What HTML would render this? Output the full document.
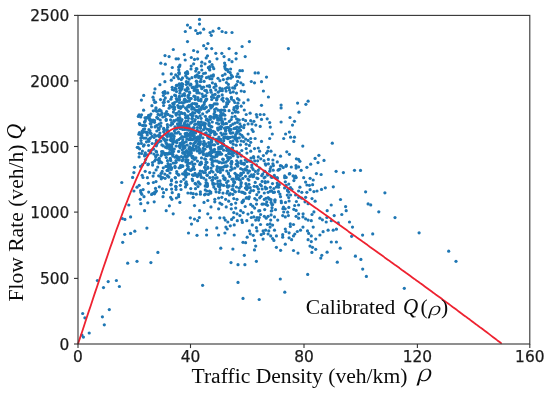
<!DOCTYPE html>
<html><head><meta charset="utf-8"><title>Calibrated fundamental diagram</title><style>
html,body{margin:0;padding:0;background:#fff;}
svg{display:block;}
.tk text{font-family:"DejaVu Sans",sans-serif;font-size:15.4px;fill:#1a1a1a;stroke:#1a1a1a;stroke-width:0.25px;}
.lab{font-family:"Liberation Serif",serif;font-size:21.6px;fill:#0a0a0a;}
.rho{font-family:"Noto Serif CJK SC","Liberation Serif",serif;font-size:21.7px;font-style:italic;fill:#0a0a0a;}
.it{font-family:"Liberation Serif",serif;font-size:21.7px;font-style:italic;fill:#0a0a0a;}
</style></head><body>
<svg width="550" height="394" viewBox="0 0 550 394">
<rect width="550" height="394" fill="#fff"/>
<g fill="#1f77b4"><circle cx="187.5" cy="25.1" r="1.6"/><circle cx="190.3" cy="27.7" r="1.6"/><circle cx="195.7" cy="30.5" r="1.6"/><circle cx="197.6" cy="33.4" r="1.6"/><circle cx="185.3" cy="31.5" r="1.6"/><circle cx="187.5" cy="41.6" r="1.6"/><circle cx="173.3" cy="49.5" r="1.6"/><circle cx="193.6" cy="50.5" r="1.6"/><circle cx="197.6" cy="51.8" r="1.6"/><circle cx="184.3" cy="54.6" r="1.6"/><circle cx="165.0" cy="55.6" r="1.6"/><circle cx="169.1" cy="56.6" r="1.6"/><circle cx="176.1" cy="58.8" r="1.6"/><circle cx="178.3" cy="58.8" r="1.6"/><circle cx="191.3" cy="57.5" r="1.6"/><circle cx="194.5" cy="59.4" r="1.6"/><circle cx="197.6" cy="58.8" r="1.6"/><circle cx="185.2" cy="60.0" r="1.6"/><circle cx="160.8" cy="63.2" r="1.6"/><circle cx="165.3" cy="64.2" r="1.6"/><circle cx="193.6" cy="63.8" r="1.6"/><circle cx="199.5" cy="19.4" r="1.6"/><circle cx="199.5" cy="24.1" r="1.6"/><circle cx="203.7" cy="29.2" r="1.6"/><circle cx="200.3" cy="32.8" r="1.6"/><circle cx="210.1" cy="32.5" r="1.6"/><circle cx="213.0" cy="31.2" r="1.6"/><circle cx="211.3" cy="35.3" r="1.6"/><circle cx="218.9" cy="28.3" r="1.6"/><circle cx="222.1" cy="31.5" r="1.6"/><circle cx="225.9" cy="32.5" r="1.6"/><circle cx="232.0" cy="32.5" r="1.6"/><circle cx="249.4" cy="41.6" r="1.6"/><circle cx="207.9" cy="43.5" r="1.6"/><circle cx="203.7" cy="45.7" r="1.6"/><circle cx="206.2" cy="48.6" r="1.6"/><circle cx="211.7" cy="48.6" r="1.6"/><circle cx="229.1" cy="48.6" r="1.6"/><circle cx="242.1" cy="46.5" r="1.6"/><circle cx="215.8" cy="53.3" r="1.6"/><circle cx="221.8" cy="53.3" r="1.6"/><circle cx="236.1" cy="53.3" r="1.6"/><circle cx="224.0" cy="56.6" r="1.6"/><circle cx="245.2" cy="56.6" r="1.6"/><circle cx="207.5" cy="55.8" r="1.6"/><circle cx="206.2" cy="57.9" r="1.6"/><circle cx="217.0" cy="58.8" r="1.6"/><circle cx="236.1" cy="58.8" r="1.6"/><circle cx="229.1" cy="59.7" r="1.6"/><circle cx="232.0" cy="61.7" r="1.6"/><circle cx="209.7" cy="61.7" r="1.6"/><circle cx="224.6" cy="63.0" r="1.6"/><circle cx="201.8" cy="62.2" r="1.6"/><circle cx="205.0" cy="63.8" r="1.6"/><circle cx="212.0" cy="64.5" r="1.6"/><circle cx="288.4" cy="48.6" r="1.6"/><circle cx="172.3" cy="67.5" r="1.6"/><circle cx="163.0" cy="73.9" r="1.6"/><circle cx="171.3" cy="73.9" r="1.6"/><circle cx="175.7" cy="74.9" r="1.6"/><circle cx="177.6" cy="76.4" r="1.6"/><circle cx="173.8" cy="77.7" r="1.6"/><circle cx="164.9" cy="81.7" r="1.6"/><circle cx="171.3" cy="80.2" r="1.6"/><circle cx="159.9" cy="84.7" r="1.6"/><circle cx="239.9" cy="70.7" r="1.6"/><circle cx="242.4" cy="70.7" r="1.6"/><circle cx="255.1" cy="72.9" r="1.6"/><circle cx="258.3" cy="72.9" r="1.6"/><circle cx="239.3" cy="77.1" r="1.6"/><circle cx="266.5" cy="77.1" r="1.6"/><circle cx="240.8" cy="82.8" r="1.6"/><circle cx="243.1" cy="84.7" r="1.6"/><circle cx="251.3" cy="81.5" r="1.6"/><circle cx="254.5" cy="82.8" r="1.6"/><circle cx="261.5" cy="81.7" r="1.6"/><circle cx="241.2" cy="91.0" r="1.6"/><circle cx="244.3" cy="91.6" r="1.6"/><circle cx="263.4" cy="91.0" r="1.6"/><circle cx="268.4" cy="97.0" r="1.6"/><circle cx="239.0" cy="99.9" r="1.6"/><circle cx="243.7" cy="102.8" r="1.6"/><circle cx="248.1" cy="99.9" r="1.6"/><circle cx="241.2" cy="106.2" r="1.6"/><circle cx="261.5" cy="105.3" r="1.6"/><circle cx="281.1" cy="105.0" r="1.6"/><circle cx="281.1" cy="107.9" r="1.6"/><circle cx="297.6" cy="103.1" r="1.6"/><circle cx="244.3" cy="110.0" r="1.6"/><circle cx="250.1" cy="113.2" r="1.6"/><circle cx="246.2" cy="114.5" r="1.6"/><circle cx="256.4" cy="114.5" r="1.6"/><circle cx="260.2" cy="114.5" r="1.6"/><circle cx="264.0" cy="114.5" r="1.6"/><circle cx="308.1" cy="101.2" r="1.6"/><circle cx="305.9" cy="104.3" r="1.6"/><circle cx="299.0" cy="112.2" r="1.6"/><circle cx="137.3" cy="147.3" r="1.6"/><circle cx="239.3" cy="120.1" r="1.6"/><circle cx="243.1" cy="119.4" r="1.6"/><circle cx="245.6" cy="120.7" r="1.6"/><circle cx="250.7" cy="120.7" r="1.6"/><circle cx="253.9" cy="121.3" r="1.6"/><circle cx="257.0" cy="116.9" r="1.6"/><circle cx="261.5" cy="119.4" r="1.6"/><circle cx="267.2" cy="118.8" r="1.6"/><circle cx="269.7" cy="122.6" r="1.6"/><circle cx="281.1" cy="122.0" r="1.6"/><circle cx="290.0" cy="117.5" r="1.6"/><circle cx="294.5" cy="121.3" r="1.6"/><circle cx="292.5" cy="125.1" r="1.6"/><circle cx="239.9" cy="123.9" r="1.6"/><circle cx="244.3" cy="125.1" r="1.6"/><circle cx="248.1" cy="123.9" r="1.6"/><circle cx="252.0" cy="123.9" r="1.6"/><circle cx="255.8" cy="125.1" r="1.6"/><circle cx="260.2" cy="126.4" r="1.6"/><circle cx="270.3" cy="127.1" r="1.6"/><circle cx="239.3" cy="127.7" r="1.6"/><circle cx="240.5" cy="130.2" r="1.6"/><circle cx="243.7" cy="127.7" r="1.6"/><circle cx="252.0" cy="129.6" r="1.6"/><circle cx="253.2" cy="131.5" r="1.6"/><circle cx="239.9" cy="134.0" r="1.6"/><circle cx="248.1" cy="134.0" r="1.6"/><circle cx="272.3" cy="134.0" r="1.6"/><circle cx="269.7" cy="138.5" r="1.6"/><circle cx="285.6" cy="134.0" r="1.6"/><circle cx="289.4" cy="132.1" r="1.6"/><circle cx="290.6" cy="137.2" r="1.6"/><circle cx="294.5" cy="137.2" r="1.6"/><circle cx="283.7" cy="138.5" r="1.6"/><circle cx="293.8" cy="141.4" r="1.6"/><circle cx="239.3" cy="137.8" r="1.6"/><circle cx="243.1" cy="137.2" r="1.6"/><circle cx="245.6" cy="139.1" r="1.6"/><circle cx="241.2" cy="141.0" r="1.6"/><circle cx="243.7" cy="141.6" r="1.6"/><circle cx="248.1" cy="140.4" r="1.6"/><circle cx="250.7" cy="138.5" r="1.6"/><circle cx="255.1" cy="138.5" r="1.6"/><circle cx="250.7" cy="142.3" r="1.6"/><circle cx="246.2" cy="144.2" r="1.6"/><circle cx="240.5" cy="144.8" r="1.6"/><circle cx="261.5" cy="141.4" r="1.6"/><circle cx="249.4" cy="145.4" r="1.6"/><circle cx="246.2" cy="148.6" r="1.6"/><circle cx="241.8" cy="150.5" r="1.6"/><circle cx="239.3" cy="153.1" r="1.6"/><circle cx="250.7" cy="151.2" r="1.6"/><circle cx="246.9" cy="153.1" r="1.6"/><circle cx="254.5" cy="148.6" r="1.6"/><circle cx="258.3" cy="148.0" r="1.6"/><circle cx="259.6" cy="151.2" r="1.6"/><circle cx="268.4" cy="147.3" r="1.6"/><circle cx="267.8" cy="151.2" r="1.6"/><circle cx="271.0" cy="151.2" r="1.6"/><circle cx="266.5" cy="153.1" r="1.6"/><circle cx="263.4" cy="155.6" r="1.6"/><circle cx="274.8" cy="155.0" r="1.6"/><circle cx="280.5" cy="156.2" r="1.6"/><circle cx="286.8" cy="151.8" r="1.6"/><circle cx="289.4" cy="154.3" r="1.6"/><circle cx="296.4" cy="158.8" r="1.6"/><circle cx="258.3" cy="156.9" r="1.6"/><circle cx="260.8" cy="158.8" r="1.6"/><circle cx="264.0" cy="160.7" r="1.6"/><circle cx="268.4" cy="159.4" r="1.6"/><circle cx="272.9" cy="160.0" r="1.6"/><circle cx="265.3" cy="163.8" r="1.6"/><circle cx="268.4" cy="163.8" r="1.6"/><circle cx="272.9" cy="163.8" r="1.6"/><circle cx="277.3" cy="161.9" r="1.6"/><circle cx="241.2" cy="126.4" r="1.6"/><circle cx="238.6" cy="131.5" r="1.6"/><circle cx="241.8" cy="135.3" r="1.6"/><circle cx="134.5" cy="167.3" r="1.6"/><circle cx="133.9" cy="172.6" r="1.6"/><circle cx="132.6" cy="177.4" r="1.6"/><circle cx="121.8" cy="182.5" r="1.6"/><circle cx="137.0" cy="187.2" r="1.6"/><circle cx="133.9" cy="191.0" r="1.6"/><circle cx="144.0" cy="196.7" r="1.6"/><circle cx="140.2" cy="199.3" r="1.6"/><circle cx="140.8" cy="203.7" r="1.6"/><circle cx="147.8" cy="202.8" r="1.6"/><circle cx="154.2" cy="201.8" r="1.6"/><circle cx="163.0" cy="196.7" r="1.6"/><circle cx="170.6" cy="197.3" r="1.6"/><circle cx="171.9" cy="199.3" r="1.6"/><circle cx="176.4" cy="198.0" r="1.6"/><circle cx="128.8" cy="205.0" r="1.6"/><circle cx="169.4" cy="205.8" r="1.6"/><circle cx="144.6" cy="210.7" r="1.6"/><circle cx="166.2" cy="210.7" r="1.6"/><circle cx="173.2" cy="213.8" r="1.6"/><circle cx="178.6" cy="196.7" r="1.6"/><circle cx="193.2" cy="197.3" r="1.6"/><circle cx="204.0" cy="202.4" r="1.6"/><circle cx="207.8" cy="200.5" r="1.6"/><circle cx="214.8" cy="199.3" r="1.6"/><circle cx="214.8" cy="201.8" r="1.6"/><circle cx="218.6" cy="198.0" r="1.6"/><circle cx="221.8" cy="197.3" r="1.6"/><circle cx="225.6" cy="199.3" r="1.6"/><circle cx="228.7" cy="201.2" r="1.6"/><circle cx="233.8" cy="198.6" r="1.6"/><circle cx="237.0" cy="199.3" r="1.6"/><circle cx="179.9" cy="202.4" r="1.6"/><circle cx="219.9" cy="203.1" r="1.6"/><circle cx="221.8" cy="204.3" r="1.6"/><circle cx="231.3" cy="204.3" r="1.6"/><circle cx="235.7" cy="203.1" r="1.6"/><circle cx="194.5" cy="205.6" r="1.6"/><circle cx="199.6" cy="210.7" r="1.6"/><circle cx="207.8" cy="213.8" r="1.6"/><circle cx="211.0" cy="206.9" r="1.6"/><circle cx="218.6" cy="208.8" r="1.6"/><circle cx="226.2" cy="206.9" r="1.6"/><circle cx="231.3" cy="208.8" r="1.6"/><circle cx="235.7" cy="208.1" r="1.6"/><circle cx="233.8" cy="212.6" r="1.6"/><circle cx="237.0" cy="213.8" r="1.6"/><circle cx="302.8" cy="146.1" r="1.6"/><circle cx="332.3" cy="143.2" r="1.6"/><circle cx="298.6" cy="159.4" r="1.6"/><circle cx="299.9" cy="161.3" r="1.6"/><circle cx="315.1" cy="158.4" r="1.6"/><circle cx="318.9" cy="155.3" r="1.6"/><circle cx="318.0" cy="162.6" r="1.6"/><circle cx="324.0" cy="160.4" r="1.6"/><circle cx="310.7" cy="164.2" r="1.6"/><circle cx="298.6" cy="166.9" r="1.6"/><circle cx="306.9" cy="167.3" r="1.6"/><circle cx="301.2" cy="170.3" r="1.6"/><circle cx="316.4" cy="173.6" r="1.6"/><circle cx="321.1" cy="174.5" r="1.6"/><circle cx="336.1" cy="171.3" r="1.6"/><circle cx="343.4" cy="172.6" r="1.6"/><circle cx="354.5" cy="170.3" r="1.6"/><circle cx="303.7" cy="177.7" r="1.6"/><circle cx="310.1" cy="178.3" r="1.6"/><circle cx="313.2" cy="180.0" r="1.6"/><circle cx="305.6" cy="182.1" r="1.6"/><circle cx="306.9" cy="185.0" r="1.6"/><circle cx="309.4" cy="185.3" r="1.6"/><circle cx="312.6" cy="184.7" r="1.6"/><circle cx="299.9" cy="187.2" r="1.6"/><circle cx="298.6" cy="191.0" r="1.6"/><circle cx="301.8" cy="192.3" r="1.6"/><circle cx="306.9" cy="192.3" r="1.6"/><circle cx="310.1" cy="189.7" r="1.6"/><circle cx="313.9" cy="191.6" r="1.6"/><circle cx="317.0" cy="191.0" r="1.6"/><circle cx="321.5" cy="189.4" r="1.6"/><circle cx="325.3" cy="187.8" r="1.6"/><circle cx="333.3" cy="186.8" r="1.6"/><circle cx="298.6" cy="197.3" r="1.6"/><circle cx="301.8" cy="198.2" r="1.6"/><circle cx="305.6" cy="197.3" r="1.6"/><circle cx="312.0" cy="198.6" r="1.6"/><circle cx="315.1" cy="201.2" r="1.6"/><circle cx="305.0" cy="201.8" r="1.6"/><circle cx="308.1" cy="203.7" r="1.6"/><circle cx="298.6" cy="205.0" r="1.6"/><circle cx="331.2" cy="205.0" r="1.6"/><circle cx="340.5" cy="199.5" r="1.6"/><circle cx="345.6" cy="206.6" r="1.6"/><circle cx="346.2" cy="210.7" r="1.6"/><circle cx="327.2" cy="210.7" r="1.6"/><circle cx="313.9" cy="211.9" r="1.6"/><circle cx="303.1" cy="213.8" r="1.6"/><circle cx="312.0" cy="214.5" r="1.6"/><circle cx="341.8" cy="214.5" r="1.6"/><circle cx="298.6" cy="213.8" r="1.6"/><circle cx="360.5" cy="170.4" r="1.6"/><circle cx="365.6" cy="191.8" r="1.6"/><circle cx="384.9" cy="192.8" r="1.6"/><circle cx="368.1" cy="203.9" r="1.6"/><circle cx="370.7" cy="204.9" r="1.6"/><circle cx="378.8" cy="211.8" r="1.6"/><circle cx="395.0" cy="217.6" r="1.6"/><circle cx="362.6" cy="235.1" r="1.6"/><circle cx="372.7" cy="233.9" r="1.6"/><circle cx="419.1" cy="232.8" r="1.6"/><circle cx="122.4" cy="218.6" r="1.6"/><circle cx="124.9" cy="219.4" r="1.6"/><circle cx="130.6" cy="216.9" r="1.6"/><circle cx="124.7" cy="234.3" r="1.6"/><circle cx="130.6" cy="233.4" r="1.6"/><circle cx="134.8" cy="231.2" r="1.6"/><circle cx="122.7" cy="242.3" r="1.6"/><circle cx="127.7" cy="263.2" r="1.6"/><circle cx="137.0" cy="261.3" r="1.6"/><circle cx="146.9" cy="228.1" r="1.6"/><circle cx="190.3" cy="217.8" r="1.6"/><circle cx="194.5" cy="219.1" r="1.6"/><circle cx="197.6" cy="220.7" r="1.6"/><circle cx="191.5" cy="224.1" r="1.6"/><circle cx="188.5" cy="233.0" r="1.6"/><circle cx="197.0" cy="235.3" r="1.6"/><circle cx="157.9" cy="252.4" r="1.6"/><circle cx="150.9" cy="262.6" r="1.6"/><circle cx="199.3" cy="217.5" r="1.6"/><circle cx="210.7" cy="217.8" r="1.6"/><circle cx="219.8" cy="217.8" r="1.6"/><circle cx="224.0" cy="217.8" r="1.6"/><circle cx="225.3" cy="220.1" r="1.6"/><circle cx="227.8" cy="222.0" r="1.6"/><circle cx="231.6" cy="219.4" r="1.6"/><circle cx="233.5" cy="217.5" r="1.6"/><circle cx="237.3" cy="220.7" r="1.6"/><circle cx="239.9" cy="215.6" r="1.6"/><circle cx="241.8" cy="220.1" r="1.6"/><circle cx="242.4" cy="222.4" r="1.6"/><circle cx="246.8" cy="220.7" r="1.6"/><circle cx="251.3" cy="217.5" r="1.6"/><circle cx="253.8" cy="216.9" r="1.6"/><circle cx="255.7" cy="220.1" r="1.6"/><circle cx="257.0" cy="217.5" r="1.6"/><circle cx="252.3" cy="224.9" r="1.6"/><circle cx="256.4" cy="227.7" r="1.6"/><circle cx="257.0" cy="230.9" r="1.6"/><circle cx="216.8" cy="227.9" r="1.6"/><circle cx="225.9" cy="227.1" r="1.6"/><circle cx="227.2" cy="229.0" r="1.6"/><circle cx="230.3" cy="225.8" r="1.6"/><circle cx="234.2" cy="224.9" r="1.6"/><circle cx="206.6" cy="230.0" r="1.6"/><circle cx="206.6" cy="235.0" r="1.6"/><circle cx="218.6" cy="235.0" r="1.6"/><circle cx="224.9" cy="233.0" r="1.6"/><circle cx="234.2" cy="235.0" r="1.6"/><circle cx="249.4" cy="230.9" r="1.6"/><circle cx="250.3" cy="233.8" r="1.6"/><circle cx="253.2" cy="235.3" r="1.6"/><circle cx="247.2" cy="237.2" r="1.6"/><circle cx="243.0" cy="242.3" r="1.6"/><circle cx="245.6" cy="242.7" r="1.6"/><circle cx="254.5" cy="240.4" r="1.6"/><circle cx="255.7" cy="246.1" r="1.6"/><circle cx="254.5" cy="249.9" r="1.6"/><circle cx="220.8" cy="248.2" r="1.6"/><circle cx="232.9" cy="249.0" r="1.6"/><circle cx="244.3" cy="255.3" r="1.6"/><circle cx="231.0" cy="262.6" r="1.6"/><circle cx="256.4" cy="261.3" r="1.6"/><circle cx="238.0" cy="264.7" r="1.6"/><circle cx="244.9" cy="264.7" r="1.6"/><circle cx="259.3" cy="217.5" r="1.6"/><circle cx="258.6" cy="220.1" r="1.6"/><circle cx="264.3" cy="216.3" r="1.6"/><circle cx="266.2" cy="218.2" r="1.6"/><circle cx="268.1" cy="216.3" r="1.6"/><circle cx="270.7" cy="220.1" r="1.6"/><circle cx="274.5" cy="216.9" r="1.6"/><circle cx="277.7" cy="220.1" r="1.6"/><circle cx="282.7" cy="215.6" r="1.6"/><circle cx="285.3" cy="216.9" r="1.6"/><circle cx="288.4" cy="215.6" r="1.6"/><circle cx="296.1" cy="216.3" r="1.6"/><circle cx="298.6" cy="218.2" r="1.6"/><circle cx="303.0" cy="216.9" r="1.6"/><circle cx="305.6" cy="218.8" r="1.6"/><circle cx="308.1" cy="220.1" r="1.6"/><circle cx="311.3" cy="220.7" r="1.6"/><circle cx="260.5" cy="224.5" r="1.6"/><circle cx="267.5" cy="224.5" r="1.6"/><circle cx="270.1" cy="223.9" r="1.6"/><circle cx="272.6" cy="225.1" r="1.6"/><circle cx="290.3" cy="223.9" r="1.6"/><circle cx="293.5" cy="224.5" r="1.6"/><circle cx="290.3" cy="226.4" r="1.6"/><circle cx="303.0" cy="227.1" r="1.6"/><circle cx="313.2" cy="227.1" r="1.6"/><circle cx="270.1" cy="227.1" r="1.6"/><circle cx="263.1" cy="230.9" r="1.6"/><circle cx="265.6" cy="230.2" r="1.6"/><circle cx="268.8" cy="230.9" r="1.6"/><circle cx="274.5" cy="230.2" r="1.6"/><circle cx="261.2" cy="234.7" r="1.6"/><circle cx="263.7" cy="233.4" r="1.6"/><circle cx="268.1" cy="234.0" r="1.6"/><circle cx="270.7" cy="235.9" r="1.6"/><circle cx="276.4" cy="235.9" r="1.6"/><circle cx="285.3" cy="229.0" r="1.6"/><circle cx="285.9" cy="231.5" r="1.6"/><circle cx="289.1" cy="232.8" r="1.6"/><circle cx="294.8" cy="234.0" r="1.6"/><circle cx="297.3" cy="231.5" r="1.6"/><circle cx="300.5" cy="230.2" r="1.6"/><circle cx="307.5" cy="230.9" r="1.6"/><circle cx="308.7" cy="233.4" r="1.6"/><circle cx="311.3" cy="235.9" r="1.6"/><circle cx="282.7" cy="234.7" r="1.6"/><circle cx="282.7" cy="237.2" r="1.6"/><circle cx="263.1" cy="239.1" r="1.6"/><circle cx="272.6" cy="238.5" r="1.6"/><circle cx="273.9" cy="240.4" r="1.6"/><circle cx="289.1" cy="237.8" r="1.6"/><circle cx="291.6" cy="239.7" r="1.6"/><circle cx="293.5" cy="235.9" r="1.6"/><circle cx="308.1" cy="239.7" r="1.6"/><circle cx="311.3" cy="241.6" r="1.6"/><circle cx="315.7" cy="239.1" r="1.6"/><circle cx="285.3" cy="244.2" r="1.6"/><circle cx="276.4" cy="247.3" r="1.6"/><circle cx="280.6" cy="250.3" r="1.6"/><circle cx="293.5" cy="250.5" r="1.6"/><circle cx="298.0" cy="253.1" r="1.6"/><circle cx="310.0" cy="246.1" r="1.6"/><circle cx="312.5" cy="247.3" r="1.6"/><circle cx="315.7" cy="249.3" r="1.6"/><circle cx="311.9" cy="252.4" r="1.6"/><circle cx="319.9" cy="218.2" r="1.6"/><circle cx="322.4" cy="219.8" r="1.6"/><circle cx="326.9" cy="217.5" r="1.6"/><circle cx="326.2" cy="222.0" r="1.6"/><circle cx="331.3" cy="220.7" r="1.6"/><circle cx="334.2" cy="215.6" r="1.6"/><circle cx="338.3" cy="222.9" r="1.6"/><circle cx="349.5" cy="222.0" r="1.6"/><circle cx="352.5" cy="227.1" r="1.6"/><circle cx="319.9" cy="235.0" r="1.6"/><circle cx="323.1" cy="231.7" r="1.6"/><circle cx="328.1" cy="230.2" r="1.6"/><circle cx="333.2" cy="230.2" r="1.6"/><circle cx="336.4" cy="229.2" r="1.6"/><circle cx="351.6" cy="236.3" r="1.6"/><circle cx="331.3" cy="242.0" r="1.6"/><circle cx="336.4" cy="242.0" r="1.6"/><circle cx="340.2" cy="248.2" r="1.6"/><circle cx="327.1" cy="252.2" r="1.6"/><circle cx="321.8" cy="255.3" r="1.6"/><circle cx="320.8" cy="258.1" r="1.6"/><circle cx="355.4" cy="256.2" r="1.6"/><circle cx="360.9" cy="259.4" r="1.6"/><circle cx="337.3" cy="262.2" r="1.6"/><circle cx="448.7" cy="251.2" r="1.6"/><circle cx="456.0" cy="261.3" r="1.6"/><circle cx="404.3" cy="288.3" r="1.6"/><circle cx="202.6" cy="285.3" r="1.6"/><circle cx="307.7" cy="274.4" r="1.6"/><circle cx="280.3" cy="279.0" r="1.6"/><circle cx="284.8" cy="292.2" r="1.6"/><circle cx="243.0" cy="298.4" r="1.6"/><circle cx="259.2" cy="299.5" r="1.6"/><circle cx="238.0" cy="282.4" r="1.6"/><circle cx="97.4" cy="280.5" r="1.6"/><circle cx="108.2" cy="281.6" r="1.6"/><circle cx="116.4" cy="280.5" r="1.6"/><circle cx="103.5" cy="287.6" r="1.6"/><circle cx="119.4" cy="286.5" r="1.6"/><circle cx="82.7" cy="313.5" r="1.6"/><circle cx="84.9" cy="317.8" r="1.6"/><circle cx="109.3" cy="309.6" r="1.6"/><circle cx="102.4" cy="316.8" r="1.6"/><circle cx="104.3" cy="324.8" r="1.6"/><circle cx="89.2" cy="333.0" r="1.6"/><circle cx="81.9" cy="335.1" r="1.6"/><circle cx="83.4" cy="337.1" r="1.6"/><circle cx="362.7" cy="269.1" r="1.6"/><circle cx="366.4" cy="276.4" r="1.6"/><circle cx="223.2" cy="113.7" r="1.6"/><circle cx="211.4" cy="170.9" r="1.6"/><circle cx="254.8" cy="198.6" r="1.6"/><circle cx="163.2" cy="92.7" r="1.6"/><circle cx="207.1" cy="186.5" r="1.6"/><circle cx="187.3" cy="145.1" r="1.6"/><circle cx="205.5" cy="73.1" r="1.6"/><circle cx="269.4" cy="199.2" r="1.6"/><circle cx="186.2" cy="185.1" r="1.6"/><circle cx="154.3" cy="92.9" r="1.6"/><circle cx="173.1" cy="142.3" r="1.6"/><circle cx="200.3" cy="137.0" r="1.6"/><circle cx="161.6" cy="136.8" r="1.6"/><circle cx="241.5" cy="174.5" r="1.6"/><circle cx="163.7" cy="128.4" r="1.6"/><circle cx="200.7" cy="134.5" r="1.6"/><circle cx="192.4" cy="174.8" r="1.6"/><circle cx="273.2" cy="170.2" r="1.6"/><circle cx="207.0" cy="162.4" r="1.6"/><circle cx="293.8" cy="209.3" r="1.6"/><circle cx="206.8" cy="99.1" r="1.6"/><circle cx="227.2" cy="185.7" r="1.6"/><circle cx="172.3" cy="150.2" r="1.6"/><circle cx="187.5" cy="87.5" r="1.6"/><circle cx="216.1" cy="191.8" r="1.6"/><circle cx="145.2" cy="171.3" r="1.6"/><circle cx="207.7" cy="168.3" r="1.6"/><circle cx="232.0" cy="117.0" r="1.6"/><circle cx="178.5" cy="157.1" r="1.6"/><circle cx="207.2" cy="183.4" r="1.6"/><circle cx="289.1" cy="201.0" r="1.6"/><circle cx="192.8" cy="130.9" r="1.6"/><circle cx="254.6" cy="208.1" r="1.6"/><circle cx="227.6" cy="69.7" r="1.6"/><circle cx="264.3" cy="171.4" r="1.6"/><circle cx="209.8" cy="135.6" r="1.6"/><circle cx="242.1" cy="202.6" r="1.6"/><circle cx="176.2" cy="162.3" r="1.6"/><circle cx="159.1" cy="124.1" r="1.6"/><circle cx="226.0" cy="133.8" r="1.6"/><circle cx="233.2" cy="144.2" r="1.6"/><circle cx="148.5" cy="145.3" r="1.6"/><circle cx="188.2" cy="97.5" r="1.6"/><circle cx="170.5" cy="166.9" r="1.6"/><circle cx="143.7" cy="95.4" r="1.6"/><circle cx="213.9" cy="116.7" r="1.6"/><circle cx="224.8" cy="115.2" r="1.6"/><circle cx="171.1" cy="184.4" r="1.6"/><circle cx="193.4" cy="113.1" r="1.6"/><circle cx="194.6" cy="121.1" r="1.6"/><circle cx="219.9" cy="80.7" r="1.6"/><circle cx="228.4" cy="173.0" r="1.6"/><circle cx="217.6" cy="183.5" r="1.6"/><circle cx="238.5" cy="178.4" r="1.6"/><circle cx="191.2" cy="66.1" r="1.6"/><circle cx="264.3" cy="193.0" r="1.6"/><circle cx="151.1" cy="133.6" r="1.6"/><circle cx="286.0" cy="166.3" r="1.6"/><circle cx="215.7" cy="103.8" r="1.6"/><circle cx="220.0" cy="90.7" r="1.6"/><circle cx="174.4" cy="131.1" r="1.6"/><circle cx="229.0" cy="101.6" r="1.6"/><circle cx="244.3" cy="163.2" r="1.6"/><circle cx="266.0" cy="198.3" r="1.6"/><circle cx="185.2" cy="133.7" r="1.6"/><circle cx="206.9" cy="146.6" r="1.6"/><circle cx="168.3" cy="101.5" r="1.6"/><circle cx="230.1" cy="130.6" r="1.6"/><circle cx="187.4" cy="168.8" r="1.6"/><circle cx="160.5" cy="99.6" r="1.6"/><circle cx="144.6" cy="156.0" r="1.6"/><circle cx="191.8" cy="156.3" r="1.6"/><circle cx="164.6" cy="153.3" r="1.6"/><circle cx="201.8" cy="88.7" r="1.6"/><circle cx="223.4" cy="167.2" r="1.6"/><circle cx="180.5" cy="108.3" r="1.6"/><circle cx="202.6" cy="105.8" r="1.6"/><circle cx="215.5" cy="160.8" r="1.6"/><circle cx="161.0" cy="155.8" r="1.6"/><circle cx="175.6" cy="186.3" r="1.6"/><circle cx="179.3" cy="96.3" r="1.6"/><circle cx="288.8" cy="184.1" r="1.6"/><circle cx="210.7" cy="148.1" r="1.6"/><circle cx="196.3" cy="81.2" r="1.6"/><circle cx="229.9" cy="149.3" r="1.6"/><circle cx="226.8" cy="98.8" r="1.6"/><circle cx="235.1" cy="86.0" r="1.6"/><circle cx="145.3" cy="152.8" r="1.6"/><circle cx="186.3" cy="81.7" r="1.6"/><circle cx="261.7" cy="175.6" r="1.6"/><circle cx="243.2" cy="212.6" r="1.6"/><circle cx="179.9" cy="117.7" r="1.6"/><circle cx="153.4" cy="182.5" r="1.6"/><circle cx="237.0" cy="106.3" r="1.6"/><circle cx="189.8" cy="93.0" r="1.6"/><circle cx="274.4" cy="192.2" r="1.6"/><circle cx="168.0" cy="114.4" r="1.6"/><circle cx="186.4" cy="72.8" r="1.6"/><circle cx="142.0" cy="131.4" r="1.6"/><circle cx="249.8" cy="192.6" r="1.6"/><circle cx="155.6" cy="102.2" r="1.6"/><circle cx="162.4" cy="188.8" r="1.6"/><circle cx="142.2" cy="175.3" r="1.6"/><circle cx="156.4" cy="140.4" r="1.6"/><circle cx="271.9" cy="210.5" r="1.6"/><circle cx="285.2" cy="208.8" r="1.6"/><circle cx="236.3" cy="164.2" r="1.6"/><circle cx="201.9" cy="76.4" r="1.6"/><circle cx="295.6" cy="194.9" r="1.6"/><circle cx="219.5" cy="162.1" r="1.6"/><circle cx="196.3" cy="194.2" r="1.6"/><circle cx="229.2" cy="185.9" r="1.6"/><circle cx="167.9" cy="176.2" r="1.6"/><circle cx="259.8" cy="210.7" r="1.6"/><circle cx="152.5" cy="162.5" r="1.6"/><circle cx="279.9" cy="194.1" r="1.6"/><circle cx="230.2" cy="72.7" r="1.6"/><circle cx="178.7" cy="139.7" r="1.6"/><circle cx="228.3" cy="78.1" r="1.6"/><circle cx="211.1" cy="92.2" r="1.6"/><circle cx="212.6" cy="105.6" r="1.6"/><circle cx="198.0" cy="143.9" r="1.6"/><circle cx="277.2" cy="177.5" r="1.6"/><circle cx="251.9" cy="167.3" r="1.6"/><circle cx="139.2" cy="185.3" r="1.6"/><circle cx="213.0" cy="76.2" r="1.6"/><circle cx="289.8" cy="173.6" r="1.6"/><circle cx="212.8" cy="66.8" r="1.6"/><circle cx="284.7" cy="177.7" r="1.6"/><circle cx="163.3" cy="167.8" r="1.6"/><circle cx="213.2" cy="131.3" r="1.6"/><circle cx="233.4" cy="179.0" r="1.6"/><circle cx="175.9" cy="113.7" r="1.6"/><circle cx="249.8" cy="176.4" r="1.6"/><circle cx="139.1" cy="114.8" r="1.6"/><circle cx="147.4" cy="117.3" r="1.6"/><circle cx="157.7" cy="167.1" r="1.6"/><circle cx="153.1" cy="120.0" r="1.6"/><circle cx="177.1" cy="85.4" r="1.6"/><circle cx="281.2" cy="201.0" r="1.6"/><circle cx="218.7" cy="147.4" r="1.6"/><circle cx="172.7" cy="123.8" r="1.6"/><circle cx="185.6" cy="183.3" r="1.6"/><circle cx="155.6" cy="192.1" r="1.6"/><circle cx="146.5" cy="141.8" r="1.6"/><circle cx="245.4" cy="188.0" r="1.6"/><circle cx="199.7" cy="122.6" r="1.6"/><circle cx="189.7" cy="154.2" r="1.6"/><circle cx="224.0" cy="138.3" r="1.6"/><circle cx="197.4" cy="176.6" r="1.6"/><circle cx="223.1" cy="175.9" r="1.6"/><circle cx="257.7" cy="160.8" r="1.6"/><circle cx="156.0" cy="107.8" r="1.6"/><circle cx="243.2" cy="201.3" r="1.6"/><circle cx="140.0" cy="124.6" r="1.6"/><circle cx="220.9" cy="118.1" r="1.6"/><circle cx="230.6" cy="125.7" r="1.6"/><circle cx="172.2" cy="192.7" r="1.6"/><circle cx="155.1" cy="127.0" r="1.6"/><circle cx="149.4" cy="118.2" r="1.6"/><circle cx="195.7" cy="89.9" r="1.6"/><circle cx="187.2" cy="71.6" r="1.6"/><circle cx="234.2" cy="152.7" r="1.6"/><circle cx="155.5" cy="188.4" r="1.6"/><circle cx="220.6" cy="139.4" r="1.6"/><circle cx="202.9" cy="106.4" r="1.6"/><circle cx="202.4" cy="171.4" r="1.6"/><circle cx="199.4" cy="76.4" r="1.6"/><circle cx="259.7" cy="197.8" r="1.6"/><circle cx="237.6" cy="165.3" r="1.6"/><circle cx="209.8" cy="66.7" r="1.6"/><circle cx="172.7" cy="135.2" r="1.6"/><circle cx="252.6" cy="176.6" r="1.6"/><circle cx="210.7" cy="132.9" r="1.6"/><circle cx="269.8" cy="171.2" r="1.6"/><circle cx="232.1" cy="179.2" r="1.6"/><circle cx="226.2" cy="166.6" r="1.6"/><circle cx="217.2" cy="103.9" r="1.6"/><circle cx="294.7" cy="205.5" r="1.6"/><circle cx="154.6" cy="161.0" r="1.6"/><circle cx="185.7" cy="177.1" r="1.6"/><circle cx="177.5" cy="123.9" r="1.6"/><circle cx="169.1" cy="108.2" r="1.6"/><circle cx="148.3" cy="183.3" r="1.6"/><circle cx="197.2" cy="74.9" r="1.6"/><circle cx="194.1" cy="131.7" r="1.6"/><circle cx="224.8" cy="110.7" r="1.6"/><circle cx="197.5" cy="161.1" r="1.6"/><circle cx="141.4" cy="100.1" r="1.6"/><circle cx="218.2" cy="92.2" r="1.6"/><circle cx="204.9" cy="149.2" r="1.6"/><circle cx="226.5" cy="82.6" r="1.6"/><circle cx="261.4" cy="185.8" r="1.6"/><circle cx="159.3" cy="186.8" r="1.6"/><circle cx="181.0" cy="189.5" r="1.6"/><circle cx="177.3" cy="157.8" r="1.6"/><circle cx="197.0" cy="81.8" r="1.6"/><circle cx="176.5" cy="129.0" r="1.6"/><circle cx="248.0" cy="172.9" r="1.6"/><circle cx="160.5" cy="176.4" r="1.6"/><circle cx="186.0" cy="161.9" r="1.6"/><circle cx="190.1" cy="137.7" r="1.6"/><circle cx="147.4" cy="177.7" r="1.6"/><circle cx="165.0" cy="116.3" r="1.6"/><circle cx="196.2" cy="146.2" r="1.6"/><circle cx="223.2" cy="145.4" r="1.6"/><circle cx="203.5" cy="73.5" r="1.6"/><circle cx="178.8" cy="107.7" r="1.6"/><circle cx="225.6" cy="131.1" r="1.6"/><circle cx="181.1" cy="121.3" r="1.6"/><circle cx="272.5" cy="183.6" r="1.6"/><circle cx="140.9" cy="192.6" r="1.6"/><circle cx="204.4" cy="102.4" r="1.6"/><circle cx="241.8" cy="192.2" r="1.6"/><circle cx="155.0" cy="88.9" r="1.6"/><circle cx="218.3" cy="184.6" r="1.6"/><circle cx="265.1" cy="177.0" r="1.6"/><circle cx="175.3" cy="177.8" r="1.6"/><circle cx="172.7" cy="103.6" r="1.6"/><circle cx="182.5" cy="77.9" r="1.6"/><circle cx="211.1" cy="75.8" r="1.6"/><circle cx="250.2" cy="187.7" r="1.6"/><circle cx="159.7" cy="135.6" r="1.6"/><circle cx="212.7" cy="157.1" r="1.6"/><circle cx="205.4" cy="194.2" r="1.6"/><circle cx="240.7" cy="210.7" r="1.6"/><circle cx="213.1" cy="165.8" r="1.6"/><circle cx="209.2" cy="153.8" r="1.6"/><circle cx="212.7" cy="183.0" r="1.6"/><circle cx="258.7" cy="210.9" r="1.6"/><circle cx="156.7" cy="143.7" r="1.6"/><circle cx="278.1" cy="170.2" r="1.6"/><circle cx="251.7" cy="212.6" r="1.6"/><circle cx="288.7" cy="197.6" r="1.6"/><circle cx="226.1" cy="69.7" r="1.6"/><circle cx="142.5" cy="164.7" r="1.6"/><circle cx="241.2" cy="155.4" r="1.6"/><circle cx="181.9" cy="136.5" r="1.6"/><circle cx="148.8" cy="150.7" r="1.6"/><circle cx="287.5" cy="190.8" r="1.6"/><circle cx="234.5" cy="88.2" r="1.6"/><circle cx="223.7" cy="162.5" r="1.6"/><circle cx="153.9" cy="173.0" r="1.6"/><circle cx="283.5" cy="207.0" r="1.6"/><circle cx="153.8" cy="99.9" r="1.6"/><circle cx="249.7" cy="161.2" r="1.6"/><circle cx="236.2" cy="106.4" r="1.6"/><circle cx="163.4" cy="92.3" r="1.6"/><circle cx="272.0" cy="207.7" r="1.6"/><circle cx="171.7" cy="150.4" r="1.6"/><circle cx="184.9" cy="100.6" r="1.6"/><circle cx="209.1" cy="123.2" r="1.6"/><circle cx="207.2" cy="86.0" r="1.6"/><circle cx="280.5" cy="196.7" r="1.6"/><circle cx="256.5" cy="204.1" r="1.6"/><circle cx="188.4" cy="118.3" r="1.6"/><circle cx="219.9" cy="189.7" r="1.6"/><circle cx="207.2" cy="155.7" r="1.6"/><circle cx="159.7" cy="109.9" r="1.6"/><circle cx="163.2" cy="102.5" r="1.6"/><circle cx="182.4" cy="166.4" r="1.6"/><circle cx="141.5" cy="114.8" r="1.6"/><circle cx="295.5" cy="176.2" r="1.6"/><circle cx="296.1" cy="168.1" r="1.6"/><circle cx="265.8" cy="165.1" r="1.6"/><circle cx="236.7" cy="76.6" r="1.6"/><circle cx="142.6" cy="131.6" r="1.6"/><circle cx="183.1" cy="146.7" r="1.6"/><circle cx="179.4" cy="127.8" r="1.6"/><circle cx="228.5" cy="157.2" r="1.6"/><circle cx="189.3" cy="169.6" r="1.6"/><circle cx="271.6" cy="190.9" r="1.6"/><circle cx="200.8" cy="125.3" r="1.6"/><circle cx="241.3" cy="182.6" r="1.6"/><circle cx="230.6" cy="69.0" r="1.6"/><circle cx="215.5" cy="189.1" r="1.6"/><circle cx="226.9" cy="104.2" r="1.6"/><circle cx="271.1" cy="202.4" r="1.6"/><circle cx="140.5" cy="166.4" r="1.6"/><circle cx="142.4" cy="151.0" r="1.6"/><circle cx="167.4" cy="166.5" r="1.6"/><circle cx="185.1" cy="89.8" r="1.6"/><circle cx="279.3" cy="184.7" r="1.6"/><circle cx="235.0" cy="116.3" r="1.6"/><circle cx="167.1" cy="146.0" r="1.6"/><circle cx="168.9" cy="168.3" r="1.6"/><circle cx="207.4" cy="175.3" r="1.6"/><circle cx="167.2" cy="131.1" r="1.6"/><circle cx="208.7" cy="110.7" r="1.6"/><circle cx="192.6" cy="180.6" r="1.6"/><circle cx="235.4" cy="191.8" r="1.6"/><circle cx="198.0" cy="186.6" r="1.6"/><circle cx="176.1" cy="89.1" r="1.6"/><circle cx="205.8" cy="143.9" r="1.6"/><circle cx="197.9" cy="97.7" r="1.6"/><circle cx="202.5" cy="124.4" r="1.6"/><circle cx="237.5" cy="98.7" r="1.6"/><circle cx="217.4" cy="139.1" r="1.6"/><circle cx="161.7" cy="162.6" r="1.6"/><circle cx="242.7" cy="169.5" r="1.6"/><circle cx="291.9" cy="189.3" r="1.6"/><circle cx="209.4" cy="85.6" r="1.6"/><circle cx="155.5" cy="110.6" r="1.6"/><circle cx="194.7" cy="113.0" r="1.6"/><circle cx="230.3" cy="137.3" r="1.6"/><circle cx="140.8" cy="138.0" r="1.6"/><circle cx="219.2" cy="186.5" r="1.6"/><circle cx="162.1" cy="153.3" r="1.6"/><circle cx="164.2" cy="102.3" r="1.6"/><circle cx="213.8" cy="187.1" r="1.6"/><circle cx="176.2" cy="115.1" r="1.6"/><circle cx="175.0" cy="126.9" r="1.6"/><circle cx="212.7" cy="94.8" r="1.6"/><circle cx="273.4" cy="165.6" r="1.6"/><circle cx="242.3" cy="201.6" r="1.6"/><circle cx="198.6" cy="77.5" r="1.6"/><circle cx="258.2" cy="170.4" r="1.6"/><circle cx="201.8" cy="70.0" r="1.6"/><circle cx="201.0" cy="131.6" r="1.6"/><circle cx="139.7" cy="124.1" r="1.6"/><circle cx="177.6" cy="99.9" r="1.6"/><circle cx="152.7" cy="193.6" r="1.6"/><circle cx="220.9" cy="133.0" r="1.6"/><circle cx="190.9" cy="152.2" r="1.6"/><circle cx="271.3" cy="211.0" r="1.6"/><circle cx="167.3" cy="175.5" r="1.6"/><circle cx="296.1" cy="210.4" r="1.6"/><circle cx="181.8" cy="88.5" r="1.6"/><circle cx="208.7" cy="67.6" r="1.6"/><circle cx="204.2" cy="96.0" r="1.6"/><circle cx="214.7" cy="134.6" r="1.6"/><circle cx="237.8" cy="73.9" r="1.6"/><circle cx="176.1" cy="186.8" r="1.6"/><circle cx="207.7" cy="167.0" r="1.6"/><circle cx="196.7" cy="103.8" r="1.6"/><circle cx="184.2" cy="100.2" r="1.6"/><circle cx="200.0" cy="150.2" r="1.6"/><circle cx="240.9" cy="186.3" r="1.6"/><circle cx="199.3" cy="93.0" r="1.6"/><circle cx="187.2" cy="126.4" r="1.6"/><circle cx="248.1" cy="187.6" r="1.6"/><circle cx="249.3" cy="196.9" r="1.6"/><circle cx="173.8" cy="109.2" r="1.6"/><circle cx="192.3" cy="107.1" r="1.6"/><circle cx="284.6" cy="187.9" r="1.6"/><circle cx="192.0" cy="169.6" r="1.6"/><circle cx="227.0" cy="87.5" r="1.6"/><circle cx="175.2" cy="88.1" r="1.6"/><circle cx="196.9" cy="68.9" r="1.6"/><circle cx="223.1" cy="123.8" r="1.6"/><circle cx="284.7" cy="175.9" r="1.6"/><circle cx="229.4" cy="194.9" r="1.6"/><circle cx="158.3" cy="128.0" r="1.6"/><circle cx="277.6" cy="185.2" r="1.6"/><circle cx="169.6" cy="147.1" r="1.6"/><circle cx="198.9" cy="109.7" r="1.6"/><circle cx="213.9" cy="118.2" r="1.6"/><circle cx="199.1" cy="183.1" r="1.6"/><circle cx="176.0" cy="160.6" r="1.6"/><circle cx="229.4" cy="130.4" r="1.6"/><circle cx="194.3" cy="159.3" r="1.6"/><circle cx="236.6" cy="178.9" r="1.6"/><circle cx="153.1" cy="176.1" r="1.6"/><circle cx="163.6" cy="192.7" r="1.6"/><circle cx="175.3" cy="177.6" r="1.6"/><circle cx="237.9" cy="112.2" r="1.6"/><circle cx="192.2" cy="179.1" r="1.6"/><circle cx="155.8" cy="156.8" r="1.6"/><circle cx="164.4" cy="92.2" r="1.6"/><circle cx="193.2" cy="193.7" r="1.6"/><circle cx="192.7" cy="139.6" r="1.6"/><circle cx="190.8" cy="84.2" r="1.6"/><circle cx="201.2" cy="162.0" r="1.6"/><circle cx="212.1" cy="164.4" r="1.6"/><circle cx="267.5" cy="205.3" r="1.6"/><circle cx="217.9" cy="181.0" r="1.6"/><circle cx="218.7" cy="140.0" r="1.6"/><circle cx="228.5" cy="150.5" r="1.6"/><circle cx="209.9" cy="78.7" r="1.6"/><circle cx="241.0" cy="161.0" r="1.6"/><circle cx="266.2" cy="204.4" r="1.6"/><circle cx="171.3" cy="140.7" r="1.6"/><circle cx="228.1" cy="138.7" r="1.6"/><circle cx="237.6" cy="166.2" r="1.6"/><circle cx="176.7" cy="171.5" r="1.6"/><circle cx="150.9" cy="152.8" r="1.6"/><circle cx="240.9" cy="183.9" r="1.6"/><circle cx="218.8" cy="96.2" r="1.6"/><circle cx="145.5" cy="159.5" r="1.6"/><circle cx="229.5" cy="90.1" r="1.6"/><circle cx="141.0" cy="140.5" r="1.6"/><circle cx="205.4" cy="123.6" r="1.6"/><circle cx="158.6" cy="110.9" r="1.6"/><circle cx="237.8" cy="119.6" r="1.6"/><circle cx="185.7" cy="76.0" r="1.6"/><circle cx="236.7" cy="160.8" r="1.6"/><circle cx="196.9" cy="92.9" r="1.6"/><circle cx="166.7" cy="135.6" r="1.6"/><circle cx="265.2" cy="187.0" r="1.6"/><circle cx="230.7" cy="78.2" r="1.6"/><circle cx="203.9" cy="141.3" r="1.6"/><circle cx="287.3" cy="195.1" r="1.6"/><circle cx="219.9" cy="168.6" r="1.6"/><circle cx="166.2" cy="120.5" r="1.6"/><circle cx="183.1" cy="152.6" r="1.6"/><circle cx="294.6" cy="177.9" r="1.6"/><circle cx="278.9" cy="169.6" r="1.6"/><circle cx="156.8" cy="131.0" r="1.6"/><circle cx="178.5" cy="159.4" r="1.6"/><circle cx="211.8" cy="140.8" r="1.6"/><circle cx="253.9" cy="174.5" r="1.6"/><circle cx="231.4" cy="99.1" r="1.6"/><circle cx="214.1" cy="113.9" r="1.6"/><circle cx="225.1" cy="179.7" r="1.6"/><circle cx="156.1" cy="169.9" r="1.6"/><circle cx="227.6" cy="157.8" r="1.6"/><circle cx="139.3" cy="153.3" r="1.6"/><circle cx="161.0" cy="173.5" r="1.6"/><circle cx="224.1" cy="110.1" r="1.6"/><circle cx="158.9" cy="162.9" r="1.6"/><circle cx="178.7" cy="194.7" r="1.6"/><circle cx="216.8" cy="98.0" r="1.6"/><circle cx="289.3" cy="173.9" r="1.6"/><circle cx="252.8" cy="206.2" r="1.6"/><circle cx="143.0" cy="177.5" r="1.6"/><circle cx="262.1" cy="181.4" r="1.6"/><circle cx="277.2" cy="183.0" r="1.6"/><circle cx="149.6" cy="119.8" r="1.6"/><circle cx="192.9" cy="134.9" r="1.6"/><circle cx="248.9" cy="180.1" r="1.6"/><circle cx="227.1" cy="79.0" r="1.6"/><circle cx="140.6" cy="190.6" r="1.6"/><circle cx="241.2" cy="174.3" r="1.6"/><circle cx="178.8" cy="107.1" r="1.6"/><circle cx="288.8" cy="192.1" r="1.6"/><circle cx="150.9" cy="114.0" r="1.6"/><circle cx="186.9" cy="184.4" r="1.6"/><circle cx="290.6" cy="195.0" r="1.6"/><circle cx="271.9" cy="204.6" r="1.6"/><circle cx="145.6" cy="125.6" r="1.6"/><circle cx="225.0" cy="74.2" r="1.6"/><circle cx="287.7" cy="212.2" r="1.6"/><circle cx="156.6" cy="143.4" r="1.6"/><circle cx="181.6" cy="166.0" r="1.6"/><circle cx="185.3" cy="136.4" r="1.6"/><circle cx="251.8" cy="165.0" r="1.6"/><circle cx="143.6" cy="110.2" r="1.6"/><circle cx="217.5" cy="167.8" r="1.6"/><circle cx="248.0" cy="214.1" r="1.6"/><circle cx="221.6" cy="148.3" r="1.6"/><circle cx="179.3" cy="124.2" r="1.6"/><circle cx="179.9" cy="65.1" r="1.6"/><circle cx="206.9" cy="191.0" r="1.6"/><circle cx="154.7" cy="102.3" r="1.6"/><circle cx="208.4" cy="145.9" r="1.6"/><circle cx="193.0" cy="115.5" r="1.6"/><circle cx="153.0" cy="97.2" r="1.6"/><circle cx="151.9" cy="105.7" r="1.6"/><circle cx="204.6" cy="133.9" r="1.6"/><circle cx="171.5" cy="146.1" r="1.6"/><circle cx="254.2" cy="186.3" r="1.6"/><circle cx="186.9" cy="136.2" r="1.6"/><circle cx="171.6" cy="179.9" r="1.6"/><circle cx="239.2" cy="188.2" r="1.6"/><circle cx="210.8" cy="192.1" r="1.6"/><circle cx="257.9" cy="178.6" r="1.6"/><circle cx="165.9" cy="166.4" r="1.6"/><circle cx="183.8" cy="179.3" r="1.6"/><circle cx="190.9" cy="193.2" r="1.6"/><circle cx="245.5" cy="176.3" r="1.6"/><circle cx="230.9" cy="133.2" r="1.6"/><circle cx="187.9" cy="121.1" r="1.6"/><circle cx="186.7" cy="174.8" r="1.6"/><circle cx="255.4" cy="171.4" r="1.6"/><circle cx="220.2" cy="168.7" r="1.6"/><circle cx="244.2" cy="164.3" r="1.6"/><circle cx="191.0" cy="69.0" r="1.6"/><circle cx="188.2" cy="82.0" r="1.6"/><circle cx="232.4" cy="113.0" r="1.6"/><circle cx="200.3" cy="81.6" r="1.6"/><circle cx="264.7" cy="209.6" r="1.6"/><circle cx="279.9" cy="169.0" r="1.6"/><circle cx="185.5" cy="186.9" r="1.6"/><circle cx="158.9" cy="129.6" r="1.6"/><circle cx="200.3" cy="163.0" r="1.6"/><circle cx="206.2" cy="184.5" r="1.6"/><circle cx="296.4" cy="201.5" r="1.6"/><circle cx="179.9" cy="93.2" r="1.6"/><circle cx="205.3" cy="172.5" r="1.6"/><circle cx="235.0" cy="173.3" r="1.6"/><circle cx="211.0" cy="131.7" r="1.6"/><circle cx="203.2" cy="148.4" r="1.6"/><circle cx="181.3" cy="156.6" r="1.6"/><circle cx="282.9" cy="208.7" r="1.6"/><circle cx="152.2" cy="143.5" r="1.6"/><circle cx="214.8" cy="111.8" r="1.6"/><circle cx="227.8" cy="187.2" r="1.6"/><circle cx="293.1" cy="175.9" r="1.6"/><circle cx="161.9" cy="154.5" r="1.6"/><circle cx="198.9" cy="72.6" r="1.6"/><circle cx="216.7" cy="170.1" r="1.6"/><circle cx="176.0" cy="189.4" r="1.6"/><circle cx="151.5" cy="150.1" r="1.6"/><circle cx="219.9" cy="88.1" r="1.6"/><circle cx="271.1" cy="214.9" r="1.6"/><circle cx="231.4" cy="97.3" r="1.6"/><circle cx="167.4" cy="136.4" r="1.6"/><circle cx="187.7" cy="83.5" r="1.6"/><circle cx="174.5" cy="109.3" r="1.6"/><circle cx="180.0" cy="126.1" r="1.6"/><circle cx="209.0" cy="138.5" r="1.6"/><circle cx="262.1" cy="204.2" r="1.6"/><circle cx="213.4" cy="74.9" r="1.6"/><circle cx="245.2" cy="206.5" r="1.6"/><circle cx="253.5" cy="156.6" r="1.6"/><circle cx="228.4" cy="84.4" r="1.6"/><circle cx="151.4" cy="126.9" r="1.6"/><circle cx="179.0" cy="111.5" r="1.6"/><circle cx="152.6" cy="165.1" r="1.6"/><circle cx="275.2" cy="177.6" r="1.6"/><circle cx="215.8" cy="89.9" r="1.6"/><circle cx="223.4" cy="79.6" r="1.6"/><circle cx="204.8" cy="124.9" r="1.6"/><circle cx="296.0" cy="165.7" r="1.6"/><circle cx="212.9" cy="177.3" r="1.6"/><circle cx="189.0" cy="107.0" r="1.6"/><circle cx="170.5" cy="164.6" r="1.6"/><circle cx="165.4" cy="113.5" r="1.6"/><circle cx="225.0" cy="178.2" r="1.6"/><circle cx="221.9" cy="99.4" r="1.6"/><circle cx="170.9" cy="99.2" r="1.6"/><circle cx="155.7" cy="155.8" r="1.6"/><circle cx="150.8" cy="119.8" r="1.6"/><circle cx="164.8" cy="91.5" r="1.6"/><circle cx="205.2" cy="186.1" r="1.6"/><circle cx="259.8" cy="168.1" r="1.6"/><circle cx="220.8" cy="112.6" r="1.6"/><circle cx="267.9" cy="181.8" r="1.6"/><circle cx="218.3" cy="118.0" r="1.6"/><circle cx="196.0" cy="184.2" r="1.6"/><circle cx="273.9" cy="188.5" r="1.6"/><circle cx="231.6" cy="161.3" r="1.6"/><circle cx="266.6" cy="188.4" r="1.6"/><circle cx="189.9" cy="85.0" r="1.6"/><circle cx="139.4" cy="123.5" r="1.6"/><circle cx="144.2" cy="144.9" r="1.6"/><circle cx="248.7" cy="198.7" r="1.6"/><circle cx="156.0" cy="181.6" r="1.6"/><circle cx="218.7" cy="149.0" r="1.6"/><circle cx="234.4" cy="181.9" r="1.6"/><circle cx="232.5" cy="136.9" r="1.6"/><circle cx="287.7" cy="189.7" r="1.6"/><circle cx="185.2" cy="100.3" r="1.6"/><circle cx="288.8" cy="207.4" r="1.6"/><circle cx="208.6" cy="76.9" r="1.6"/><circle cx="190.0" cy="139.1" r="1.6"/><circle cx="191.2" cy="98.6" r="1.6"/><circle cx="236.2" cy="145.2" r="1.6"/><circle cx="209.0" cy="153.1" r="1.6"/><circle cx="223.3" cy="159.4" r="1.6"/><circle cx="190.7" cy="170.4" r="1.6"/><circle cx="200.2" cy="143.6" r="1.6"/><circle cx="246.2" cy="198.2" r="1.6"/><circle cx="168.2" cy="133.9" r="1.6"/><circle cx="191.0" cy="151.6" r="1.6"/><circle cx="216.6" cy="123.0" r="1.6"/><circle cx="216.6" cy="99.9" r="1.6"/><circle cx="166.4" cy="189.6" r="1.6"/><circle cx="170.6" cy="119.8" r="1.6"/><circle cx="281.4" cy="202.7" r="1.6"/><circle cx="196.3" cy="116.4" r="1.6"/><circle cx="139.6" cy="148.8" r="1.6"/><circle cx="272.6" cy="204.6" r="1.6"/><circle cx="167.4" cy="124.7" r="1.6"/><circle cx="285.3" cy="181.8" r="1.6"/><circle cx="240.7" cy="168.7" r="1.6"/><circle cx="188.0" cy="163.3" r="1.6"/><circle cx="210.8" cy="155.8" r="1.6"/><circle cx="201.2" cy="108.2" r="1.6"/><circle cx="225.2" cy="65.1" r="1.6"/><circle cx="190.3" cy="134.0" r="1.6"/><circle cx="186.5" cy="151.3" r="1.6"/><circle cx="203.6" cy="87.2" r="1.6"/><circle cx="146.8" cy="132.6" r="1.6"/><circle cx="203.1" cy="96.6" r="1.6"/><circle cx="270.2" cy="168.8" r="1.6"/><circle cx="171.3" cy="135.6" r="1.6"/><circle cx="232.1" cy="189.5" r="1.6"/><circle cx="220.9" cy="128.8" r="1.6"/><circle cx="161.3" cy="178.8" r="1.6"/><circle cx="164.2" cy="100.0" r="1.6"/><circle cx="170.0" cy="173.0" r="1.6"/><circle cx="143.1" cy="189.6" r="1.6"/><circle cx="145.1" cy="162.5" r="1.6"/><circle cx="236.5" cy="93.1" r="1.6"/><circle cx="154.7" cy="192.2" r="1.6"/><circle cx="159.6" cy="162.0" r="1.6"/><circle cx="290.5" cy="187.6" r="1.6"/><circle cx="219.2" cy="139.0" r="1.6"/><circle cx="228.2" cy="71.6" r="1.6"/><circle cx="185.5" cy="72.8" r="1.6"/><circle cx="229.3" cy="121.4" r="1.6"/><circle cx="176.4" cy="85.4" r="1.6"/><circle cx="177.0" cy="173.3" r="1.6"/><circle cx="180.3" cy="185.3" r="1.6"/><circle cx="222.5" cy="75.6" r="1.6"/><circle cx="207.6" cy="155.1" r="1.6"/><circle cx="291.3" cy="167.0" r="1.6"/><circle cx="158.1" cy="160.0" r="1.6"/><circle cx="188.8" cy="174.0" r="1.6"/><circle cx="234.9" cy="138.7" r="1.6"/><circle cx="186.4" cy="173.0" r="1.6"/><circle cx="191.3" cy="153.5" r="1.6"/><circle cx="217.3" cy="161.2" r="1.6"/><circle cx="231.5" cy="164.0" r="1.6"/><circle cx="277.4" cy="178.5" r="1.6"/><circle cx="198.9" cy="173.7" r="1.6"/><circle cx="174.6" cy="107.3" r="1.6"/><circle cx="203.7" cy="178.1" r="1.6"/><circle cx="217.2" cy="168.4" r="1.6"/><circle cx="210.0" cy="105.4" r="1.6"/><circle cx="251.4" cy="174.9" r="1.6"/><circle cx="210.2" cy="129.6" r="1.6"/><circle cx="267.7" cy="175.1" r="1.6"/><circle cx="241.0" cy="163.2" r="1.6"/><circle cx="249.0" cy="184.3" r="1.6"/><circle cx="226.3" cy="106.4" r="1.6"/><circle cx="293.9" cy="180.6" r="1.6"/><circle cx="234.9" cy="168.1" r="1.6"/><circle cx="201.8" cy="87.4" r="1.6"/><circle cx="270.9" cy="166.8" r="1.6"/><circle cx="197.0" cy="83.9" r="1.6"/><circle cx="201.6" cy="151.9" r="1.6"/><circle cx="202.9" cy="137.8" r="1.6"/><circle cx="191.5" cy="104.7" r="1.6"/><circle cx="171.4" cy="180.8" r="1.6"/><circle cx="157.5" cy="118.0" r="1.6"/><circle cx="176.1" cy="146.1" r="1.6"/><circle cx="175.3" cy="133.1" r="1.6"/><circle cx="256.4" cy="164.8" r="1.6"/><circle cx="165.1" cy="154.8" r="1.6"/><circle cx="180.8" cy="90.2" r="1.6"/><circle cx="200.1" cy="115.8" r="1.6"/><circle cx="222.4" cy="122.2" r="1.6"/><circle cx="195.8" cy="175.2" r="1.6"/><circle cx="197.4" cy="127.5" r="1.6"/><circle cx="240.9" cy="173.3" r="1.6"/><circle cx="146.9" cy="132.4" r="1.6"/><circle cx="181.3" cy="79.6" r="1.6"/><circle cx="196.3" cy="68.6" r="1.6"/><circle cx="206.1" cy="132.8" r="1.6"/><circle cx="182.7" cy="144.0" r="1.6"/><circle cx="181.8" cy="102.5" r="1.6"/><circle cx="194.4" cy="138.3" r="1.6"/><circle cx="223.3" cy="101.1" r="1.6"/><circle cx="143.4" cy="146.1" r="1.6"/><circle cx="147.9" cy="164.7" r="1.6"/><circle cx="208.4" cy="194.4" r="1.6"/><circle cx="203.3" cy="96.3" r="1.6"/><circle cx="166.2" cy="119.3" r="1.6"/><circle cx="165.1" cy="93.3" r="1.6"/><circle cx="163.4" cy="95.5" r="1.6"/><circle cx="186.2" cy="181.9" r="1.6"/><circle cx="217.1" cy="177.7" r="1.6"/><circle cx="245.9" cy="183.7" r="1.6"/><circle cx="171.6" cy="189.1" r="1.6"/><circle cx="231.3" cy="75.1" r="1.6"/><circle cx="170.3" cy="158.3" r="1.6"/><circle cx="179.1" cy="72.7" r="1.6"/><circle cx="222.3" cy="90.7" r="1.6"/><circle cx="190.8" cy="188.6" r="1.6"/><circle cx="275.5" cy="209.7" r="1.6"/><circle cx="164.0" cy="139.2" r="1.6"/><circle cx="263.6" cy="204.0" r="1.6"/><circle cx="210.7" cy="90.2" r="1.6"/><circle cx="184.9" cy="145.9" r="1.6"/><circle cx="167.6" cy="170.0" r="1.6"/><circle cx="230.5" cy="92.6" r="1.6"/><circle cx="156.2" cy="151.3" r="1.6"/><circle cx="227.2" cy="165.9" r="1.6"/><circle cx="273.3" cy="192.4" r="1.6"/><circle cx="197.2" cy="91.4" r="1.6"/><circle cx="224.0" cy="178.9" r="1.6"/><circle cx="233.7" cy="100.5" r="1.6"/><circle cx="157.1" cy="143.3" r="1.6"/><circle cx="215.4" cy="84.2" r="1.6"/><circle cx="208.7" cy="142.7" r="1.6"/><circle cx="192.6" cy="112.5" r="1.6"/><circle cx="271.0" cy="199.7" r="1.6"/><circle cx="286.2" cy="185.4" r="1.6"/><circle cx="220.9" cy="139.9" r="1.6"/><circle cx="206.5" cy="77.7" r="1.6"/><circle cx="286.2" cy="177.4" r="1.6"/><circle cx="251.0" cy="190.5" r="1.6"/><circle cx="154.5" cy="193.8" r="1.6"/><circle cx="246.8" cy="197.5" r="1.6"/><circle cx="235.5" cy="111.3" r="1.6"/><circle cx="221.9" cy="162.8" r="1.6"/><circle cx="167.0" cy="129.8" r="1.6"/><circle cx="227.2" cy="186.3" r="1.6"/><circle cx="149.7" cy="172.6" r="1.6"/><circle cx="161.1" cy="110.9" r="1.6"/><circle cx="193.0" cy="156.5" r="1.6"/><circle cx="285.5" cy="202.4" r="1.6"/><circle cx="219.5" cy="127.6" r="1.6"/><circle cx="196.0" cy="124.1" r="1.6"/><circle cx="256.7" cy="200.0" r="1.6"/><circle cx="211.7" cy="99.5" r="1.6"/><circle cx="209.8" cy="70.0" r="1.6"/><circle cx="210.3" cy="116.6" r="1.6"/><circle cx="141.8" cy="135.6" r="1.6"/><circle cx="232.7" cy="152.0" r="1.6"/><circle cx="204.5" cy="194.8" r="1.6"/><circle cx="156.9" cy="111.3" r="1.6"/><circle cx="177.0" cy="99.4" r="1.6"/><circle cx="146.0" cy="117.8" r="1.6"/><circle cx="233.3" cy="184.8" r="1.6"/><circle cx="174.0" cy="90.1" r="1.6"/><circle cx="185.9" cy="128.1" r="1.6"/><circle cx="286.3" cy="165.2" r="1.6"/><circle cx="180.4" cy="106.8" r="1.6"/><circle cx="260.6" cy="214.5" r="1.6"/><circle cx="178.2" cy="118.0" r="1.6"/><circle cx="283.7" cy="212.0" r="1.6"/><circle cx="265.7" cy="188.8" r="1.6"/><circle cx="230.2" cy="193.5" r="1.6"/><circle cx="209.2" cy="145.7" r="1.6"/><circle cx="170.3" cy="139.9" r="1.6"/><circle cx="237.4" cy="122.3" r="1.6"/><circle cx="223.6" cy="150.2" r="1.6"/><circle cx="264.9" cy="171.3" r="1.6"/><circle cx="201.4" cy="65.9" r="1.6"/><circle cx="150.0" cy="132.8" r="1.6"/><circle cx="244.3" cy="193.0" r="1.6"/><circle cx="148.4" cy="164.0" r="1.6"/><circle cx="141.8" cy="194.3" r="1.6"/><circle cx="173.9" cy="120.5" r="1.6"/><circle cx="186.2" cy="161.3" r="1.6"/><circle cx="224.7" cy="66.6" r="1.6"/><circle cx="234.0" cy="128.6" r="1.6"/><circle cx="198.8" cy="106.3" r="1.6"/><circle cx="162.8" cy="177.6" r="1.6"/><circle cx="235.0" cy="128.2" r="1.6"/><circle cx="213.8" cy="97.6" r="1.6"/><circle cx="195.5" cy="188.7" r="1.6"/><circle cx="232.8" cy="194.3" r="1.6"/><circle cx="255.2" cy="182.4" r="1.6"/><circle cx="141.4" cy="143.4" r="1.6"/><circle cx="161.9" cy="144.9" r="1.6"/><circle cx="247.0" cy="161.6" r="1.6"/><circle cx="206.3" cy="90.4" r="1.6"/><circle cx="195.3" cy="76.2" r="1.6"/><circle cx="187.9" cy="193.0" r="1.6"/><circle cx="179.4" cy="97.4" r="1.6"/><circle cx="203.7" cy="172.6" r="1.6"/><circle cx="179.5" cy="114.6" r="1.6"/><circle cx="221.5" cy="184.9" r="1.6"/><circle cx="245.5" cy="169.9" r="1.6"/><circle cx="281.6" cy="166.0" r="1.6"/><circle cx="148.9" cy="141.3" r="1.6"/><circle cx="195.7" cy="104.1" r="1.6"/><circle cx="151.6" cy="194.4" r="1.6"/><circle cx="141.0" cy="134.4" r="1.6"/><circle cx="217.2" cy="166.5" r="1.6"/><circle cx="156.6" cy="152.0" r="1.6"/><circle cx="245.0" cy="193.4" r="1.6"/><circle cx="243.4" cy="200.1" r="1.6"/><circle cx="181.7" cy="83.7" r="1.6"/><circle cx="257.0" cy="186.6" r="1.6"/><circle cx="185.7" cy="117.8" r="1.6"/><circle cx="209.8" cy="117.0" r="1.6"/><circle cx="253.7" cy="157.8" r="1.6"/><circle cx="220.4" cy="116.0" r="1.6"/><circle cx="191.2" cy="122.7" r="1.6"/><circle cx="218.2" cy="129.8" r="1.6"/><circle cx="184.0" cy="125.5" r="1.6"/><circle cx="150.9" cy="124.1" r="1.6"/><circle cx="257.9" cy="173.5" r="1.6"/><circle cx="149.7" cy="132.6" r="1.6"/><circle cx="232.5" cy="76.7" r="1.6"/><circle cx="232.8" cy="124.2" r="1.6"/><circle cx="186.8" cy="138.9" r="1.6"/><circle cx="228.6" cy="174.0" r="1.6"/><circle cx="187.9" cy="160.1" r="1.6"/><circle cx="220.3" cy="110.4" r="1.6"/><circle cx="275.0" cy="199.8" r="1.6"/><circle cx="201.5" cy="107.5" r="1.6"/><circle cx="211.0" cy="105.5" r="1.6"/><circle cx="190.6" cy="134.5" r="1.6"/><circle cx="268.1" cy="192.3" r="1.6"/><circle cx="155.9" cy="109.0" r="1.6"/><circle cx="224.0" cy="137.2" r="1.6"/><circle cx="214.7" cy="132.1" r="1.6"/><circle cx="205.3" cy="189.9" r="1.6"/><circle cx="227.7" cy="103.7" r="1.6"/><circle cx="163.7" cy="131.8" r="1.6"/><circle cx="250.7" cy="204.4" r="1.6"/><circle cx="214.5" cy="183.9" r="1.6"/><circle cx="170.9" cy="184.8" r="1.6"/><circle cx="159.1" cy="160.3" r="1.6"/><circle cx="139.1" cy="156.9" r="1.6"/><circle cx="175.6" cy="95.7" r="1.6"/><circle cx="171.8" cy="146.9" r="1.6"/><circle cx="176.5" cy="155.8" r="1.6"/><circle cx="201.4" cy="163.6" r="1.6"/><circle cx="184.9" cy="152.0" r="1.6"/><circle cx="197.9" cy="175.2" r="1.6"/><circle cx="234.6" cy="182.4" r="1.6"/><circle cx="235.5" cy="112.1" r="1.6"/><circle cx="158.7" cy="175.8" r="1.6"/><circle cx="195.7" cy="71.1" r="1.6"/><circle cx="170.6" cy="135.1" r="1.6"/><circle cx="223.3" cy="145.9" r="1.6"/><circle cx="225.5" cy="88.4" r="1.6"/><circle cx="216.1" cy="86.0" r="1.6"/><circle cx="182.9" cy="166.0" r="1.6"/><circle cx="205.8" cy="100.6" r="1.6"/><circle cx="260.3" cy="184.6" r="1.6"/><circle cx="194.8" cy="158.4" r="1.6"/><circle cx="206.6" cy="118.8" r="1.6"/><circle cx="177.4" cy="128.0" r="1.6"/><circle cx="177.8" cy="105.6" r="1.6"/><circle cx="165.3" cy="97.9" r="1.6"/><circle cx="162.2" cy="171.4" r="1.6"/><circle cx="278.5" cy="187.2" r="1.6"/><circle cx="219.0" cy="162.4" r="1.6"/><circle cx="160.2" cy="120.0" r="1.6"/><circle cx="201.3" cy="177.4" r="1.6"/><circle cx="197.4" cy="90.1" r="1.6"/><circle cx="144.5" cy="122.0" r="1.6"/><circle cx="296.2" cy="177.6" r="1.6"/><circle cx="178.8" cy="69.7" r="1.6"/><circle cx="219.7" cy="185.2" r="1.6"/><circle cx="237.2" cy="141.3" r="1.6"/><circle cx="172.1" cy="116.4" r="1.6"/><circle cx="195.6" cy="110.3" r="1.6"/><circle cx="199.7" cy="144.8" r="1.6"/><circle cx="167.5" cy="114.3" r="1.6"/><circle cx="186.3" cy="90.3" r="1.6"/><circle cx="181.0" cy="181.5" r="1.6"/><circle cx="209.5" cy="191.2" r="1.6"/><circle cx="168.7" cy="165.1" r="1.6"/><circle cx="225.2" cy="68.4" r="1.6"/><circle cx="195.0" cy="142.8" r="1.6"/><circle cx="216.4" cy="141.2" r="1.6"/><circle cx="176.5" cy="91.6" r="1.6"/><circle cx="267.3" cy="174.0" r="1.6"/><circle cx="208.4" cy="67.7" r="1.6"/><circle cx="271.9" cy="177.5" r="1.6"/><circle cx="229.8" cy="153.7" r="1.6"/><circle cx="188.3" cy="166.8" r="1.6"/><circle cx="165.6" cy="147.2" r="1.6"/><circle cx="210.6" cy="154.7" r="1.6"/><circle cx="155.6" cy="159.5" r="1.6"/><circle cx="219.4" cy="167.7" r="1.6"/><circle cx="167.8" cy="92.9" r="1.6"/><circle cx="258.7" cy="192.1" r="1.6"/><circle cx="231.8" cy="162.2" r="1.6"/><circle cx="261.0" cy="196.3" r="1.6"/><circle cx="238.2" cy="178.0" r="1.6"/><circle cx="206.6" cy="153.9" r="1.6"/><circle cx="234.8" cy="102.5" r="1.6"/><circle cx="189.9" cy="148.5" r="1.6"/><circle cx="147.0" cy="154.9" r="1.6"/><circle cx="212.4" cy="82.8" r="1.6"/><circle cx="207.3" cy="135.0" r="1.6"/><circle cx="201.0" cy="81.5" r="1.6"/><circle cx="211.9" cy="159.7" r="1.6"/><circle cx="232.6" cy="87.8" r="1.6"/><circle cx="159.8" cy="115.1" r="1.6"/><circle cx="187.6" cy="73.6" r="1.6"/><circle cx="204.1" cy="143.2" r="1.6"/><circle cx="153.9" cy="154.0" r="1.6"/><circle cx="210.4" cy="119.4" r="1.6"/><circle cx="214.7" cy="157.2" r="1.6"/><circle cx="175.1" cy="167.6" r="1.6"/><circle cx="175.1" cy="163.0" r="1.6"/><circle cx="222.2" cy="94.9" r="1.6"/><circle cx="184.3" cy="142.6" r="1.6"/><circle cx="218.2" cy="186.1" r="1.6"/><circle cx="215.1" cy="94.4" r="1.6"/><circle cx="184.3" cy="124.1" r="1.6"/><circle cx="218.6" cy="123.9" r="1.6"/><circle cx="176.8" cy="101.3" r="1.6"/><circle cx="172.3" cy="152.0" r="1.6"/><circle cx="160.4" cy="161.7" r="1.6"/><circle cx="274.9" cy="200.4" r="1.6"/><circle cx="190.6" cy="85.0" r="1.6"/><circle cx="190.0" cy="163.3" r="1.6"/><circle cx="210.1" cy="145.7" r="1.6"/><circle cx="230.5" cy="170.2" r="1.6"/><circle cx="223.9" cy="133.8" r="1.6"/><circle cx="236.5" cy="84.7" r="1.6"/><circle cx="246.8" cy="189.5" r="1.6"/><circle cx="199.4" cy="174.6" r="1.6"/><circle cx="270.3" cy="191.2" r="1.6"/><circle cx="210.6" cy="193.2" r="1.6"/><circle cx="190.0" cy="149.2" r="1.6"/><circle cx="150.2" cy="123.6" r="1.6"/><circle cx="174.2" cy="121.3" r="1.6"/><circle cx="271.1" cy="176.8" r="1.6"/><circle cx="226.6" cy="182.6" r="1.6"/><circle cx="185.3" cy="115.0" r="1.6"/><circle cx="193.6" cy="166.8" r="1.6"/><circle cx="194.1" cy="127.9" r="1.6"/><circle cx="233.1" cy="189.6" r="1.6"/><circle cx="223.6" cy="144.2" r="1.6"/><circle cx="206.1" cy="99.2" r="1.6"/><circle cx="166.2" cy="153.6" r="1.6"/><circle cx="185.7" cy="170.5" r="1.6"/><circle cx="167.0" cy="129.9" r="1.6"/><circle cx="229.1" cy="87.7" r="1.6"/><circle cx="144.6" cy="128.8" r="1.6"/><circle cx="262.2" cy="189.0" r="1.6"/><circle cx="199.9" cy="85.9" r="1.6"/><circle cx="278.5" cy="191.7" r="1.6"/><circle cx="231.2" cy="119.6" r="1.6"/><circle cx="187.4" cy="101.3" r="1.6"/><circle cx="206.1" cy="182.6" r="1.6"/><circle cx="207.5" cy="185.7" r="1.6"/><circle cx="161.8" cy="114.5" r="1.6"/><circle cx="202.6" cy="124.5" r="1.6"/><circle cx="169.8" cy="105.6" r="1.6"/><circle cx="217.0" cy="99.1" r="1.6"/><circle cx="213.1" cy="184.4" r="1.6"/><circle cx="200.2" cy="164.7" r="1.6"/><circle cx="142.0" cy="137.5" r="1.6"/><circle cx="240.3" cy="180.2" r="1.6"/><circle cx="172.7" cy="143.9" r="1.6"/><circle cx="158.5" cy="135.4" r="1.6"/><circle cx="249.5" cy="171.1" r="1.6"/><circle cx="185.8" cy="159.8" r="1.6"/><circle cx="204.1" cy="81.4" r="1.6"/><circle cx="208.2" cy="137.5" r="1.6"/><circle cx="218.0" cy="78.3" r="1.6"/><circle cx="237.5" cy="129.9" r="1.6"/><circle cx="190.2" cy="135.0" r="1.6"/><circle cx="150.2" cy="138.2" r="1.6"/><circle cx="172.4" cy="89.5" r="1.6"/><circle cx="203.5" cy="129.7" r="1.6"/><circle cx="138.3" cy="147.7" r="1.6"/><circle cx="237.6" cy="175.3" r="1.6"/><circle cx="245.3" cy="159.8" r="1.6"/><circle cx="165.1" cy="178.3" r="1.6"/><circle cx="221.7" cy="110.2" r="1.6"/><circle cx="237.1" cy="108.3" r="1.6"/><circle cx="188.9" cy="105.4" r="1.6"/><circle cx="256.8" cy="178.1" r="1.6"/><circle cx="209.2" cy="131.0" r="1.6"/><circle cx="156.4" cy="191.0" r="1.6"/><circle cx="209.5" cy="69.1" r="1.6"/><circle cx="170.7" cy="125.2" r="1.6"/><circle cx="227.7" cy="99.6" r="1.6"/><circle cx="179.3" cy="83.8" r="1.6"/><circle cx="237.9" cy="103.2" r="1.6"/><circle cx="220.5" cy="146.9" r="1.6"/><circle cx="153.3" cy="110.8" r="1.6"/><circle cx="256.8" cy="194.7" r="1.6"/><circle cx="237.1" cy="138.4" r="1.6"/><circle cx="193.9" cy="96.2" r="1.6"/><circle cx="233.2" cy="155.7" r="1.6"/><circle cx="179.1" cy="146.2" r="1.6"/><circle cx="251.0" cy="158.1" r="1.6"/><circle cx="225.1" cy="165.8" r="1.6"/><circle cx="199.1" cy="111.6" r="1.6"/><circle cx="144.7" cy="122.1" r="1.6"/><circle cx="265.2" cy="181.6" r="1.6"/><circle cx="243.5" cy="172.4" r="1.6"/><circle cx="168.8" cy="177.1" r="1.6"/><circle cx="195.4" cy="76.9" r="1.6"/><circle cx="283.3" cy="167.6" r="1.6"/><circle cx="232.3" cy="153.3" r="1.6"/><circle cx="214.6" cy="109.5" r="1.6"/><circle cx="190.7" cy="123.1" r="1.6"/><circle cx="184.6" cy="129.4" r="1.6"/><circle cx="266.7" cy="201.9" r="1.6"/><circle cx="217.8" cy="171.6" r="1.6"/><circle cx="167.0" cy="170.5" r="1.6"/><circle cx="195.1" cy="183.4" r="1.6"/><circle cx="148.9" cy="129.7" r="1.6"/><circle cx="204.1" cy="145.6" r="1.6"/><circle cx="225.9" cy="162.2" r="1.6"/><circle cx="187.4" cy="88.7" r="1.6"/><circle cx="262.7" cy="174.1" r="1.6"/><circle cx="157.5" cy="154.8" r="1.6"/><circle cx="246.6" cy="186.0" r="1.6"/><circle cx="142.5" cy="132.8" r="1.6"/><circle cx="160.9" cy="141.1" r="1.6"/><circle cx="178.6" cy="67.0" r="1.6"/><circle cx="192.0" cy="115.7" r="1.6"/><circle cx="172.2" cy="87.3" r="1.6"/><circle cx="146.6" cy="118.2" r="1.6"/><circle cx="161.8" cy="173.0" r="1.6"/><circle cx="163.6" cy="105.5" r="1.6"/><circle cx="200.2" cy="171.1" r="1.6"/><circle cx="170.0" cy="167.5" r="1.6"/><circle cx="194.2" cy="149.9" r="1.6"/><circle cx="150.7" cy="120.6" r="1.6"/><circle cx="274.3" cy="175.4" r="1.6"/><circle cx="210.7" cy="108.1" r="1.6"/><circle cx="196.8" cy="75.5" r="1.6"/><circle cx="211.5" cy="96.9" r="1.6"/><circle cx="235.0" cy="123.1" r="1.6"/><circle cx="198.6" cy="123.6" r="1.6"/><circle cx="175.0" cy="157.2" r="1.6"/><circle cx="187.2" cy="77.9" r="1.6"/><circle cx="205.9" cy="95.7" r="1.6"/><circle cx="212.6" cy="180.1" r="1.6"/><circle cx="177.0" cy="113.4" r="1.6"/><circle cx="193.5" cy="175.5" r="1.6"/><circle cx="222.3" cy="88.8" r="1.6"/><circle cx="218.0" cy="151.8" r="1.6"/><circle cx="172.1" cy="148.6" r="1.6"/><circle cx="155.7" cy="126.0" r="1.6"/><circle cx="186.2" cy="141.7" r="1.6"/><circle cx="222.4" cy="122.1" r="1.6"/><circle cx="152.0" cy="136.4" r="1.6"/><circle cx="192.2" cy="135.5" r="1.6"/><circle cx="198.9" cy="139.4" r="1.6"/><circle cx="276.3" cy="187.0" r="1.6"/><circle cx="213.0" cy="144.8" r="1.6"/><circle cx="216.3" cy="134.0" r="1.6"/><circle cx="254.7" cy="160.9" r="1.6"/><circle cx="213.8" cy="161.0" r="1.6"/><circle cx="192.6" cy="168.6" r="1.6"/><circle cx="280.4" cy="165.7" r="1.6"/><circle cx="171.7" cy="122.7" r="1.6"/><circle cx="253.5" cy="176.6" r="1.6"/><circle cx="216.1" cy="115.4" r="1.6"/><circle cx="197.3" cy="91.5" r="1.6"/><circle cx="193.6" cy="109.1" r="1.6"/><circle cx="236.3" cy="175.1" r="1.6"/><circle cx="218.2" cy="110.2" r="1.6"/><circle cx="201.0" cy="79.0" r="1.6"/><circle cx="223.4" cy="145.4" r="1.6"/><circle cx="167.8" cy="131.8" r="1.6"/><circle cx="199.0" cy="112.4" r="1.6"/><circle cx="233.3" cy="91.9" r="1.6"/><circle cx="215.4" cy="174.9" r="1.6"/><circle cx="189.2" cy="135.0" r="1.6"/><circle cx="162.8" cy="117.0" r="1.6"/><circle cx="181.7" cy="88.6" r="1.6"/><circle cx="247.0" cy="170.2" r="1.6"/><circle cx="148.7" cy="192.1" r="1.6"/><circle cx="223.0" cy="193.1" r="1.6"/><circle cx="138.5" cy="143.7" r="1.6"/><circle cx="206.9" cy="175.1" r="1.6"/><circle cx="232.8" cy="186.2" r="1.6"/><circle cx="163.3" cy="145.9" r="1.6"/><circle cx="256.9" cy="186.8" r="1.6"/><circle cx="264.7" cy="171.5" r="1.6"/><circle cx="181.2" cy="107.1" r="1.6"/><circle cx="187.2" cy="165.4" r="1.6"/><circle cx="200.5" cy="128.3" r="1.6"/><circle cx="213.8" cy="68.7" r="1.6"/><circle cx="229.1" cy="110.7" r="1.6"/><circle cx="185.2" cy="102.0" r="1.6"/><circle cx="222.9" cy="98.1" r="1.6"/><circle cx="178.1" cy="120.3" r="1.6"/><circle cx="264.3" cy="199.4" r="1.6"/><circle cx="227.6" cy="137.0" r="1.6"/><circle cx="206.1" cy="162.2" r="1.6"/><circle cx="237.0" cy="154.2" r="1.6"/><circle cx="200.4" cy="194.2" r="1.6"/><circle cx="192.0" cy="161.8" r="1.6"/><circle cx="187.5" cy="161.0" r="1.6"/><circle cx="173.8" cy="135.7" r="1.6"/><circle cx="214.0" cy="87.4" r="1.6"/><circle cx="211.9" cy="78.8" r="1.6"/><circle cx="237.7" cy="81.4" r="1.6"/><circle cx="195.2" cy="96.7" r="1.6"/><circle cx="171.0" cy="133.8" r="1.6"/><circle cx="219.2" cy="184.5" r="1.6"/><circle cx="232.3" cy="168.9" r="1.6"/><circle cx="253.1" cy="169.4" r="1.6"/><circle cx="222.7" cy="159.2" r="1.6"/><circle cx="185.0" cy="147.8" r="1.6"/><circle cx="199.7" cy="149.3" r="1.6"/><circle cx="158.9" cy="159.5" r="1.6"/><circle cx="232.9" cy="132.8" r="1.6"/><circle cx="229.1" cy="159.0" r="1.6"/><circle cx="235.8" cy="138.4" r="1.6"/><circle cx="176.4" cy="182.2" r="1.6"/><circle cx="258.4" cy="188.9" r="1.6"/><circle cx="225.7" cy="130.3" r="1.6"/><circle cx="144.7" cy="154.9" r="1.6"/><circle cx="204.8" cy="90.5" r="1.6"/><circle cx="186.5" cy="129.3" r="1.6"/><circle cx="268.1" cy="197.7" r="1.6"/><circle cx="173.9" cy="104.5" r="1.6"/><circle cx="264.1" cy="177.8" r="1.6"/><circle cx="247.9" cy="179.0" r="1.6"/><circle cx="220.3" cy="170.5" r="1.6"/><circle cx="241.4" cy="156.1" r="1.6"/><circle cx="184.7" cy="174.7" r="1.6"/><circle cx="235.9" cy="111.5" r="1.6"/><circle cx="191.8" cy="129.0" r="1.6"/><circle cx="161.0" cy="123.1" r="1.6"/><circle cx="206.0" cy="179.9" r="1.6"/><circle cx="166.6" cy="111.5" r="1.6"/><circle cx="204.9" cy="127.7" r="1.6"/><circle cx="270.4" cy="187.3" r="1.6"/><circle cx="177.1" cy="133.0" r="1.6"/><circle cx="227.0" cy="193.2" r="1.6"/><circle cx="236.0" cy="139.4" r="1.6"/><circle cx="195.7" cy="86.7" r="1.6"/><circle cx="184.6" cy="95.4" r="1.6"/><circle cx="167.7" cy="153.8" r="1.6"/><circle cx="209.6" cy="172.7" r="1.6"/><circle cx="226.2" cy="155.4" r="1.6"/><circle cx="153.7" cy="149.2" r="1.6"/><circle cx="214.2" cy="103.9" r="1.6"/><circle cx="225.2" cy="137.1" r="1.6"/><circle cx="253.5" cy="190.6" r="1.6"/><circle cx="218.1" cy="96.3" r="1.6"/><circle cx="171.6" cy="106.8" r="1.6"/><circle cx="200.4" cy="191.8" r="1.6"/><circle cx="207.6" cy="119.6" r="1.6"/><circle cx="174.5" cy="102.6" r="1.6"/><circle cx="234.7" cy="191.6" r="1.6"/><circle cx="168.0" cy="163.7" r="1.6"/><circle cx="209.6" cy="86.8" r="1.6"/><circle cx="233.1" cy="150.9" r="1.6"/><circle cx="195.6" cy="137.9" r="1.6"/><circle cx="197.5" cy="111.3" r="1.6"/><circle cx="176.4" cy="119.8" r="1.6"/><circle cx="208.7" cy="135.1" r="1.6"/><circle cx="194.4" cy="169.3" r="1.6"/><circle cx="192.4" cy="118.3" r="1.6"/><circle cx="219.8" cy="119.7" r="1.6"/><circle cx="200.5" cy="173.9" r="1.6"/><circle cx="179.8" cy="84.7" r="1.6"/><circle cx="236.6" cy="118.8" r="1.6"/><circle cx="205.7" cy="100.8" r="1.6"/><circle cx="182.7" cy="153.1" r="1.6"/><circle cx="236.3" cy="177.0" r="1.6"/><circle cx="157.1" cy="125.3" r="1.6"/><circle cx="218.1" cy="129.8" r="1.6"/><circle cx="211.0" cy="159.2" r="1.6"/><circle cx="182.8" cy="139.7" r="1.6"/><circle cx="167.1" cy="144.2" r="1.6"/><circle cx="201.5" cy="157.9" r="1.6"/><circle cx="224.5" cy="107.0" r="1.6"/><circle cx="172.0" cy="152.2" r="1.6"/><circle cx="238.1" cy="162.7" r="1.6"/><circle cx="245.3" cy="168.9" r="1.6"/><circle cx="150.5" cy="120.4" r="1.6"/><circle cx="231.0" cy="163.2" r="1.6"/><circle cx="143.9" cy="138.1" r="1.6"/><circle cx="226.1" cy="91.1" r="1.6"/><circle cx="189.3" cy="79.1" r="1.6"/><circle cx="192.9" cy="164.4" r="1.6"/><circle cx="171.2" cy="169.5" r="1.6"/><circle cx="197.8" cy="99.3" r="1.6"/><circle cx="216.3" cy="116.0" r="1.6"/><circle cx="211.9" cy="126.8" r="1.6"/><circle cx="176.8" cy="140.5" r="1.6"/><circle cx="240.2" cy="175.9" r="1.6"/><circle cx="212.2" cy="106.0" r="1.6"/><circle cx="242.9" cy="192.3" r="1.6"/><circle cx="231.1" cy="166.7" r="1.6"/><circle cx="181.6" cy="86.7" r="1.6"/><circle cx="156.4" cy="136.0" r="1.6"/><circle cx="215.4" cy="178.3" r="1.6"/><circle cx="265.3" cy="182.7" r="1.6"/><circle cx="139.4" cy="132.6" r="1.6"/><circle cx="167.5" cy="160.7" r="1.6"/><circle cx="224.4" cy="178.2" r="1.6"/><circle cx="179.7" cy="122.4" r="1.6"/><circle cx="186.2" cy="157.1" r="1.6"/><circle cx="269.1" cy="198.5" r="1.6"/><circle cx="204.3" cy="108.7" r="1.6"/><circle cx="187.6" cy="72.9" r="1.6"/><circle cx="197.2" cy="151.0" r="1.6"/><circle cx="235.6" cy="134.5" r="1.6"/><circle cx="198.4" cy="150.7" r="1.6"/><circle cx="159.9" cy="133.0" r="1.6"/><circle cx="220.3" cy="172.4" r="1.6"/><circle cx="251.3" cy="161.5" r="1.6"/><circle cx="164.8" cy="174.1" r="1.6"/><circle cx="186.7" cy="109.4" r="1.6"/><circle cx="184.9" cy="126.8" r="1.6"/><circle cx="199.0" cy="142.1" r="1.6"/><circle cx="207.1" cy="92.5" r="1.6"/><circle cx="213.2" cy="151.3" r="1.6"/><circle cx="145.3" cy="120.7" r="1.6"/><circle cx="141.6" cy="153.5" r="1.6"/><circle cx="221.7" cy="154.0" r="1.6"/><circle cx="140.7" cy="117.0" r="1.6"/><circle cx="177.9" cy="125.9" r="1.6"/><circle cx="191.4" cy="131.2" r="1.6"/><circle cx="222.0" cy="115.2" r="1.6"/><circle cx="226.7" cy="147.4" r="1.6"/><circle cx="202.1" cy="94.1" r="1.6"/><circle cx="167.7" cy="154.1" r="1.6"/><circle cx="212.1" cy="162.4" r="1.6"/><circle cx="236.5" cy="187.0" r="1.6"/><circle cx="207.7" cy="136.0" r="1.6"/><circle cx="204.6" cy="167.4" r="1.6"/><circle cx="180.2" cy="146.4" r="1.6"/><circle cx="187.4" cy="156.3" r="1.6"/><circle cx="247.1" cy="166.7" r="1.6"/><circle cx="211.3" cy="117.1" r="1.6"/><circle cx="187.9" cy="95.9" r="1.6"/><circle cx="226.6" cy="138.0" r="1.6"/><circle cx="217.5" cy="152.5" r="1.6"/><circle cx="170.6" cy="160.1" r="1.6"/><circle cx="189.6" cy="99.1" r="1.6"/><circle cx="198.3" cy="181.8" r="1.6"/><circle cx="193.9" cy="137.7" r="1.6"/><circle cx="158.1" cy="114.4" r="1.6"/><circle cx="159.2" cy="158.3" r="1.6"/><circle cx="228.3" cy="148.8" r="1.6"/><circle cx="212.0" cy="180.3" r="1.6"/><circle cx="221.2" cy="167.5" r="1.6"/><circle cx="195.9" cy="157.8" r="1.6"/><circle cx="211.3" cy="139.9" r="1.6"/><circle cx="230.7" cy="142.3" r="1.6"/><circle cx="228.8" cy="128.2" r="1.6"/><circle cx="192.2" cy="87.6" r="1.6"/><circle cx="176.4" cy="98.5" r="1.6"/><circle cx="172.2" cy="149.7" r="1.6"/><circle cx="206.3" cy="107.2" r="1.6"/><circle cx="186.3" cy="84.5" r="1.6"/><circle cx="220.7" cy="126.7" r="1.6"/><circle cx="145.9" cy="138.1" r="1.6"/><circle cx="170.3" cy="115.8" r="1.6"/><circle cx="204.1" cy="104.4" r="1.6"/><circle cx="186.8" cy="90.9" r="1.6"/><circle cx="182.4" cy="144.8" r="1.6"/><circle cx="194.6" cy="124.6" r="1.6"/><circle cx="274.9" cy="202.0" r="1.6"/><circle cx="175.0" cy="166.3" r="1.6"/><circle cx="180.5" cy="165.7" r="1.6"/><circle cx="147.3" cy="134.9" r="1.6"/><circle cx="174.1" cy="136.6" r="1.6"/><circle cx="239.2" cy="179.5" r="1.6"/><circle cx="211.9" cy="107.0" r="1.6"/><circle cx="198.9" cy="131.5" r="1.6"/><circle cx="205.9" cy="155.6" r="1.6"/><circle cx="211.1" cy="168.0" r="1.6"/><circle cx="203.4" cy="151.0" r="1.6"/><circle cx="242.1" cy="163.7" r="1.6"/><circle cx="191.9" cy="148.0" r="1.6"/><circle cx="155.7" cy="143.4" r="1.6"/><circle cx="196.8" cy="106.7" r="1.6"/><circle cx="180.0" cy="119.6" r="1.6"/><circle cx="227.7" cy="191.2" r="1.6"/><circle cx="224.2" cy="178.3" r="1.6"/><circle cx="237.9" cy="156.8" r="1.6"/><circle cx="233.6" cy="181.7" r="1.6"/><circle cx="166.1" cy="143.1" r="1.6"/><circle cx="191.9" cy="77.7" r="1.6"/><circle cx="227.8" cy="160.5" r="1.6"/><circle cx="210.8" cy="126.4" r="1.6"/><circle cx="186.0" cy="133.5" r="1.6"/><circle cx="163.7" cy="128.8" r="1.6"/><circle cx="154.6" cy="134.8" r="1.6"/><circle cx="203.8" cy="122.9" r="1.6"/><circle cx="226.8" cy="102.6" r="1.6"/><circle cx="172.9" cy="106.8" r="1.6"/><circle cx="195.0" cy="173.3" r="1.6"/><circle cx="187.6" cy="106.5" r="1.6"/><circle cx="239.1" cy="191.4" r="1.6"/><circle cx="156.3" cy="145.8" r="1.6"/><circle cx="234.1" cy="107.7" r="1.6"/><circle cx="158.0" cy="118.6" r="1.6"/><circle cx="178.8" cy="72.8" r="1.6"/><circle cx="165.7" cy="114.1" r="1.6"/><circle cx="179.6" cy="85.0" r="1.6"/><circle cx="228.1" cy="181.1" r="1.6"/><circle cx="230.6" cy="157.5" r="1.6"/><circle cx="232.9" cy="141.0" r="1.6"/><circle cx="182.4" cy="142.1" r="1.6"/><circle cx="237.5" cy="106.7" r="1.6"/><circle cx="180.4" cy="121.1" r="1.6"/><circle cx="232.1" cy="148.2" r="1.6"/><circle cx="213.0" cy="172.0" r="1.6"/><circle cx="207.1" cy="184.4" r="1.6"/><circle cx="216.2" cy="108.5" r="1.6"/><circle cx="236.8" cy="132.1" r="1.6"/><circle cx="199.7" cy="164.5" r="1.6"/><circle cx="220.5" cy="141.8" r="1.6"/><circle cx="164.9" cy="134.1" r="1.6"/><circle cx="214.7" cy="144.8" r="1.6"/><circle cx="148.6" cy="115.4" r="1.6"/><circle cx="150.0" cy="130.8" r="1.6"/><circle cx="182.2" cy="165.8" r="1.6"/><circle cx="220.0" cy="180.8" r="1.6"/><circle cx="212.0" cy="152.6" r="1.6"/><circle cx="192.7" cy="133.8" r="1.6"/><circle cx="205.6" cy="169.9" r="1.6"/><circle cx="171.6" cy="97.1" r="1.6"/><circle cx="190.9" cy="138.6" r="1.6"/><circle cx="221.6" cy="126.8" r="1.6"/><circle cx="172.7" cy="156.1" r="1.6"/><circle cx="186.7" cy="150.5" r="1.6"/><circle cx="179.0" cy="158.3" r="1.6"/><circle cx="200.6" cy="126.6" r="1.6"/><circle cx="212.8" cy="156.8" r="1.6"/><circle cx="189.5" cy="92.0" r="1.6"/><circle cx="192.3" cy="121.7" r="1.6"/><circle cx="222.7" cy="170.0" r="1.6"/><circle cx="201.1" cy="109.3" r="1.6"/><circle cx="242.8" cy="178.4" r="1.6"/><circle cx="166.3" cy="157.5" r="1.6"/><circle cx="180.2" cy="128.4" r="1.6"/><circle cx="185.9" cy="73.5" r="1.6"/><circle cx="173.7" cy="138.6" r="1.6"/><circle cx="184.5" cy="113.3" r="1.6"/><circle cx="200.4" cy="141.7" r="1.6"/><circle cx="195.1" cy="158.9" r="1.6"/><circle cx="189.4" cy="101.1" r="1.6"/><circle cx="220.1" cy="148.7" r="1.6"/><circle cx="183.4" cy="94.6" r="1.6"/><circle cx="209.5" cy="125.7" r="1.6"/><circle cx="203.4" cy="154.4" r="1.6"/><circle cx="168.5" cy="131.4" r="1.6"/><circle cx="168.3" cy="170.5" r="1.6"/><circle cx="159.2" cy="141.6" r="1.6"/><circle cx="161.6" cy="151.5" r="1.6"/><circle cx="220.6" cy="115.7" r="1.6"/><circle cx="209.8" cy="177.7" r="1.6"/><circle cx="219.6" cy="187.0" r="1.6"/><circle cx="143.4" cy="129.4" r="1.6"/><circle cx="206.3" cy="120.0" r="1.6"/><circle cx="173.4" cy="112.1" r="1.6"/><circle cx="186.5" cy="100.8" r="1.6"/><circle cx="148.4" cy="139.6" r="1.6"/><circle cx="208.3" cy="121.0" r="1.6"/><circle cx="198.7" cy="100.4" r="1.6"/><circle cx="169.5" cy="153.6" r="1.6"/><circle cx="188.9" cy="151.6" r="1.6"/><circle cx="145.0" cy="117.8" r="1.6"/><circle cx="193.9" cy="108.3" r="1.6"/><circle cx="201.3" cy="121.9" r="1.6"/><circle cx="192.9" cy="132.2" r="1.6"/><circle cx="179.5" cy="66.5" r="1.6"/><circle cx="175.4" cy="128.9" r="1.6"/><circle cx="216.6" cy="117.3" r="1.6"/><circle cx="220.4" cy="183.6" r="1.6"/><circle cx="181.6" cy="126.1" r="1.6"/><circle cx="230.2" cy="132.7" r="1.6"/><circle cx="170.7" cy="160.6" r="1.6"/><circle cx="216.3" cy="141.1" r="1.6"/><circle cx="205.5" cy="164.8" r="1.6"/><circle cx="201.0" cy="133.8" r="1.6"/><circle cx="183.5" cy="137.0" r="1.6"/><circle cx="179.3" cy="118.3" r="1.6"/><circle cx="169.4" cy="152.7" r="1.6"/><circle cx="223.6" cy="185.4" r="1.6"/><circle cx="226.8" cy="171.0" r="1.6"/><circle cx="182.4" cy="86.4" r="1.6"/><circle cx="182.7" cy="84.2" r="1.6"/><circle cx="233.8" cy="109.6" r="1.6"/><circle cx="194.1" cy="90.5" r="1.6"/><circle cx="234.2" cy="137.0" r="1.6"/><circle cx="189.5" cy="155.1" r="1.6"/><circle cx="216.3" cy="155.0" r="1.6"/><circle cx="230.6" cy="150.9" r="1.6"/><circle cx="203.0" cy="144.0" r="1.6"/><circle cx="170.1" cy="136.1" r="1.6"/><circle cx="159.6" cy="110.0" r="1.6"/><circle cx="190.9" cy="139.6" r="1.6"/><circle cx="204.9" cy="108.2" r="1.6"/><circle cx="174.7" cy="95.2" r="1.6"/><circle cx="223.5" cy="124.1" r="1.6"/><circle cx="197.3" cy="110.7" r="1.6"/><circle cx="227.8" cy="127.4" r="1.6"/><circle cx="191.0" cy="149.5" r="1.6"/><circle cx="183.1" cy="103.2" r="1.6"/><circle cx="142.5" cy="125.5" r="1.6"/><circle cx="225.0" cy="137.2" r="1.6"/><circle cx="186.8" cy="157.1" r="1.6"/><circle cx="201.0" cy="176.4" r="1.6"/><circle cx="201.0" cy="101.0" r="1.6"/><circle cx="210.7" cy="145.5" r="1.6"/><circle cx="213.9" cy="132.3" r="1.6"/><circle cx="149.1" cy="139.2" r="1.6"/><circle cx="188.7" cy="95.2" r="1.6"/><circle cx="171.7" cy="167.9" r="1.6"/><circle cx="236.8" cy="175.1" r="1.6"/><circle cx="154.5" cy="122.3" r="1.6"/><circle cx="182.2" cy="150.0" r="1.6"/><circle cx="180.5" cy="167.5" r="1.6"/><circle cx="218.5" cy="154.1" r="1.6"/><circle cx="138.3" cy="116.4" r="1.6"/><circle cx="195.2" cy="119.6" r="1.6"/><circle cx="163.1" cy="137.9" r="1.6"/><circle cx="199.6" cy="153.0" r="1.6"/><circle cx="159.2" cy="128.0" r="1.6"/><circle cx="185.5" cy="108.0" r="1.6"/><circle cx="167.5" cy="146.8" r="1.6"/><circle cx="190.4" cy="139.4" r="1.6"/><circle cx="178.7" cy="78.6" r="1.6"/><circle cx="222.1" cy="135.0" r="1.6"/><circle cx="202.7" cy="113.9" r="1.6"/><circle cx="188.6" cy="134.4" r="1.6"/><circle cx="192.9" cy="87.1" r="1.6"/><circle cx="217.7" cy="119.7" r="1.6"/><circle cx="192.4" cy="148.8" r="1.6"/><circle cx="216.8" cy="156.3" r="1.6"/><circle cx="180.1" cy="147.8" r="1.6"/><circle cx="228.6" cy="153.4" r="1.6"/><circle cx="172.9" cy="141.0" r="1.6"/><circle cx="166.9" cy="139.9" r="1.6"/><circle cx="210.8" cy="130.3" r="1.6"/><circle cx="213.0" cy="138.0" r="1.6"/><circle cx="190.3" cy="98.6" r="1.6"/><circle cx="235.4" cy="136.7" r="1.6"/><circle cx="208.0" cy="137.4" r="1.6"/><circle cx="160.7" cy="126.2" r="1.6"/><circle cx="191.9" cy="118.7" r="1.6"/><circle cx="194.8" cy="164.0" r="1.6"/><circle cx="200.5" cy="163.1" r="1.6"/><circle cx="201.1" cy="99.1" r="1.6"/><circle cx="179.3" cy="73.9" r="1.6"/><circle cx="151.7" cy="122.0" r="1.6"/><circle cx="198.3" cy="122.0" r="1.6"/><circle cx="230.3" cy="129.5" r="1.6"/><circle cx="204.7" cy="126.7" r="1.6"/><circle cx="203.3" cy="153.4" r="1.6"/><circle cx="179.6" cy="99.7" r="1.6"/><circle cx="229.8" cy="176.4" r="1.6"/><circle cx="182.9" cy="159.6" r="1.6"/><circle cx="184.4" cy="93.6" r="1.6"/><circle cx="225.1" cy="128.4" r="1.6"/><circle cx="162.9" cy="151.7" r="1.6"/><circle cx="156.4" cy="141.8" r="1.6"/><circle cx="183.0" cy="106.3" r="1.6"/><circle cx="226.7" cy="147.8" r="1.6"/><circle cx="172.1" cy="133.8" r="1.6"/><circle cx="200.1" cy="184.1" r="1.6"/><circle cx="190.3" cy="105.9" r="1.6"/><circle cx="173.1" cy="163.0" r="1.6"/><circle cx="222.0" cy="123.4" r="1.6"/><circle cx="162.0" cy="113.2" r="1.6"/><circle cx="179.1" cy="167.8" r="1.6"/><circle cx="219.2" cy="192.4" r="1.6"/><circle cx="142.7" cy="131.6" r="1.6"/><circle cx="210.4" cy="152.3" r="1.6"/><circle cx="187.9" cy="135.8" r="1.6"/><circle cx="171.2" cy="153.7" r="1.6"/><circle cx="186.5" cy="133.7" r="1.6"/><circle cx="180.3" cy="120.6" r="1.6"/><circle cx="182.0" cy="95.8" r="1.6"/><circle cx="236.8" cy="151.9" r="1.6"/><circle cx="217.6" cy="128.1" r="1.6"/><circle cx="170.8" cy="136.4" r="1.6"/><circle cx="201.1" cy="118.3" r="1.6"/><circle cx="199.8" cy="127.6" r="1.6"/><circle cx="200.9" cy="163.6" r="1.6"/><circle cx="222.5" cy="143.2" r="1.6"/><circle cx="198.5" cy="136.9" r="1.6"/><circle cx="197.5" cy="85.5" r="1.6"/><circle cx="188.7" cy="130.2" r="1.6"/><circle cx="220.9" cy="146.9" r="1.6"/><circle cx="214.1" cy="151.1" r="1.6"/><circle cx="179.9" cy="90.4" r="1.6"/><circle cx="192.5" cy="103.5" r="1.6"/><circle cx="198.7" cy="147.3" r="1.6"/><circle cx="143.7" cy="125.3" r="1.6"/><circle cx="156.5" cy="144.7" r="1.6"/><circle cx="181.3" cy="112.7" r="1.6"/><circle cx="190.5" cy="114.5" r="1.6"/><circle cx="180.1" cy="145.1" r="1.6"/><circle cx="178.7" cy="159.6" r="1.6"/><circle cx="178.4" cy="174.8" r="1.6"/><circle cx="164.3" cy="130.7" r="1.6"/><circle cx="164.3" cy="139.2" r="1.6"/><circle cx="206.9" cy="112.1" r="1.6"/><circle cx="192.3" cy="157.8" r="1.6"/><circle cx="219.4" cy="128.2" r="1.6"/><circle cx="181.5" cy="125.8" r="1.6"/><circle cx="197.2" cy="137.6" r="1.6"/><circle cx="193.4" cy="145.7" r="1.6"/><circle cx="173.5" cy="151.5" r="1.6"/><circle cx="208.8" cy="124.8" r="1.6"/><circle cx="229.6" cy="137.6" r="1.6"/><circle cx="235.4" cy="128.4" r="1.6"/><circle cx="156.8" cy="117.4" r="1.6"/><circle cx="211.1" cy="141.9" r="1.6"/><circle cx="166.6" cy="153.8" r="1.6"/><circle cx="180.9" cy="120.3" r="1.6"/><circle cx="222.1" cy="121.8" r="1.6"/><circle cx="180.3" cy="143.4" r="1.6"/><circle cx="150.1" cy="115.5" r="1.6"/><circle cx="199.7" cy="138.5" r="1.6"/><circle cx="218.9" cy="137.1" r="1.6"/><circle cx="182.4" cy="113.5" r="1.6"/><circle cx="206.7" cy="129.1" r="1.6"/><circle cx="179.3" cy="87.7" r="1.6"/><circle cx="184.7" cy="99.1" r="1.6"/><circle cx="193.7" cy="132.4" r="1.6"/><circle cx="194.6" cy="103.6" r="1.6"/><circle cx="228.9" cy="128.0" r="1.6"/><circle cx="218.3" cy="120.2" r="1.6"/><circle cx="154.1" cy="137.5" r="1.6"/><circle cx="208.6" cy="129.6" r="1.6"/><circle cx="189.7" cy="146.9" r="1.6"/><circle cx="231.8" cy="154.5" r="1.6"/><circle cx="211.6" cy="142.1" r="1.6"/><circle cx="191.7" cy="109.1" r="1.6"/><circle cx="159.4" cy="136.8" r="1.6"/><circle cx="205.7" cy="159.3" r="1.6"/><circle cx="140.9" cy="134.9" r="1.6"/><circle cx="166.8" cy="147.6" r="1.6"/><circle cx="182.3" cy="160.7" r="1.6"/><circle cx="169.7" cy="149.3" r="1.6"/><circle cx="180.8" cy="123.1" r="1.6"/><circle cx="178.9" cy="174.9" r="1.6"/><circle cx="180.4" cy="138.3" r="1.6"/><circle cx="218.8" cy="154.1" r="1.6"/><circle cx="216.3" cy="115.7" r="1.6"/><circle cx="183.3" cy="148.9" r="1.6"/><circle cx="194.1" cy="88.4" r="1.6"/><circle cx="167.6" cy="127.2" r="1.6"/><circle cx="226.2" cy="127.7" r="1.6"/><circle cx="214.5" cy="149.3" r="1.6"/><circle cx="173.3" cy="140.2" r="1.6"/><circle cx="194.3" cy="135.7" r="1.6"/><circle cx="198.6" cy="124.7" r="1.6"/><circle cx="180.5" cy="128.6" r="1.6"/><circle cx="230.4" cy="141.5" r="1.6"/><circle cx="220.7" cy="153.6" r="1.6"/><circle cx="222.8" cy="144.4" r="1.6"/><circle cx="191.0" cy="114.3" r="1.6"/><circle cx="231.0" cy="129.5" r="1.6"/><circle cx="154.3" cy="120.5" r="1.6"/><circle cx="184.7" cy="172.0" r="1.6"/><circle cx="170.7" cy="145.1" r="1.6"/><circle cx="165.2" cy="141.0" r="1.6"/><circle cx="193.6" cy="150.0" r="1.6"/><circle cx="167.3" cy="148.0" r="1.6"/><circle cx="197.1" cy="86.7" r="1.6"/><circle cx="184.9" cy="154.4" r="1.6"/><circle cx="179.5" cy="102.7" r="1.6"/><circle cx="200.7" cy="135.6" r="1.6"/><circle cx="212.3" cy="122.0" r="1.6"/><circle cx="190.8" cy="134.5" r="1.6"/><circle cx="198.0" cy="117.7" r="1.6"/><circle cx="221.4" cy="118.7" r="1.6"/><circle cx="191.0" cy="135.2" r="1.6"/><circle cx="210.1" cy="147.6" r="1.6"/><circle cx="204.7" cy="158.8" r="1.6"/><circle cx="195.2" cy="99.4" r="1.6"/><circle cx="171.4" cy="136.6" r="1.6"/><circle cx="180.3" cy="134.0" r="1.6"/><circle cx="232.6" cy="148.1" r="1.6"/><circle cx="210.2" cy="143.8" r="1.6"/><circle cx="145.0" cy="131.9" r="1.6"/><circle cx="186.0" cy="117.4" r="1.6"/><circle cx="185.3" cy="155.7" r="1.6"/><circle cx="224.6" cy="128.2" r="1.6"/><circle cx="223.7" cy="140.7" r="1.6"/><circle cx="205.4" cy="116.3" r="1.6"/><circle cx="195.5" cy="141.2" r="1.6"/><circle cx="224.9" cy="119.0" r="1.6"/><circle cx="138.9" cy="134.2" r="1.6"/><circle cx="216.3" cy="154.8" r="1.6"/><circle cx="182.6" cy="173.8" r="1.6"/><circle cx="226.7" cy="150.5" r="1.6"/><circle cx="237.0" cy="133.1" r="1.6"/><circle cx="169.0" cy="146.3" r="1.6"/><circle cx="192.1" cy="130.3" r="1.6"/><circle cx="154.5" cy="120.6" r="1.6"/><circle cx="186.8" cy="133.0" r="1.6"/><circle cx="189.0" cy="148.4" r="1.6"/><circle cx="176.9" cy="142.6" r="1.6"/><circle cx="188.2" cy="111.3" r="1.6"/><circle cx="179.3" cy="160.0" r="1.6"/><circle cx="187.9" cy="115.8" r="1.6"/><circle cx="196.2" cy="89.8" r="1.6"/><circle cx="217.8" cy="143.6" r="1.6"/><circle cx="178.6" cy="151.4" r="1.6"/><circle cx="187.3" cy="124.7" r="1.6"/><circle cx="237.0" cy="127.0" r="1.6"/><circle cx="196.3" cy="148.4" r="1.6"/><circle cx="210.9" cy="151.9" r="1.6"/><circle cx="188.9" cy="125.1" r="1.6"/><circle cx="227.3" cy="148.5" r="1.6"/><circle cx="215.9" cy="139.3" r="1.6"/><circle cx="188.9" cy="139.7" r="1.6"/><circle cx="219.7" cy="115.8" r="1.6"/><circle cx="188.2" cy="89.0" r="1.6"/><circle cx="170.6" cy="148.4" r="1.6"/><circle cx="187.6" cy="153.3" r="1.6"/><circle cx="185.1" cy="127.4" r="1.6"/><circle cx="175.5" cy="142.0" r="1.6"/><circle cx="183.3" cy="157.4" r="1.6"/><circle cx="189.8" cy="149.0" r="1.6"/><circle cx="181.6" cy="127.9" r="1.6"/><circle cx="216.7" cy="152.6" r="1.6"/><circle cx="172.9" cy="154.6" r="1.6"/><circle cx="184.7" cy="124.5" r="1.6"/><circle cx="196.2" cy="141.3" r="1.6"/><circle cx="194.9" cy="132.7" r="1.6"/><circle cx="225.6" cy="123.7" r="1.6"/><circle cx="171.4" cy="138.6" r="1.6"/><circle cx="220.5" cy="154.2" r="1.6"/><circle cx="184.8" cy="126.0" r="1.6"/><circle cx="185.9" cy="121.1" r="1.6"/><circle cx="219.9" cy="152.0" r="1.6"/><circle cx="211.5" cy="150.2" r="1.6"/><circle cx="193.6" cy="127.7" r="1.6"/><circle cx="172.2" cy="152.9" r="1.6"/><circle cx="226.6" cy="123.5" r="1.6"/><circle cx="193.7" cy="143.7" r="1.6"/><circle cx="169.4" cy="144.8" r="1.6"/><circle cx="188.5" cy="154.0" r="1.6"/><circle cx="197.6" cy="137.1" r="1.6"/><circle cx="210.8" cy="149.1" r="1.6"/><circle cx="189.2" cy="127.3" r="1.6"/><circle cx="222.1" cy="120.8" r="1.6"/><circle cx="193.4" cy="148.7" r="1.6"/><circle cx="184.8" cy="122.5" r="1.6"/><circle cx="180.7" cy="127.4" r="1.6"/><circle cx="174.3" cy="149.1" r="1.6"/><circle cx="217.6" cy="153.3" r="1.6"/><circle cx="182.7" cy="129.5" r="1.6"/><circle cx="182.0" cy="119.6" r="1.6"/><circle cx="190.2" cy="133.0" r="1.6"/><circle cx="196.8" cy="140.0" r="1.6"/><circle cx="183.2" cy="126.7" r="1.6"/><circle cx="195.6" cy="132.9" r="1.6"/><circle cx="214.6" cy="151.9" r="1.6"/><circle cx="190.5" cy="143.4" r="1.6"/><circle cx="178.5" cy="132.1" r="1.6"/><circle cx="192.3" cy="128.9" r="1.6"/><circle cx="197.3" cy="130.0" r="1.6"/></g>
<polyline points="78.0,344.0 80.1,337.6 82.3,331.2 84.4,324.8 86.5,318.3 88.6,311.9 90.8,305.5 92.9,299.0 95.0,292.6 97.2,286.2 99.3,279.9 101.4,273.5 103.5,267.2 105.7,260.9 107.8,254.7 109.9,248.5 112.1,242.4 114.2,236.3 116.3,230.3 118.5,224.4 120.6,218.5 122.7,212.8 124.8,207.1 127.0,201.6 129.1,196.2 131.2,190.9 133.4,185.8 135.5,180.9 137.6,176.1 139.7,171.5 141.9,167.1 144.0,163.0 146.1,159.0 148.3,155.3 150.4,151.8 152.5,148.5 154.6,145.4 156.8,142.6 158.9,140.0 161.0,137.7 163.2,135.5 165.3,133.7 167.4,132.1 169.6,130.7 171.7,129.5 173.8,128.7 175.9,128.0 178.1,127.6 180.2,127.4 182.3,127.4 184.5,127.6 186.6,128.0 188.7,128.4 190.8,129.0 193.0,129.7 195.1,130.5 197.2,131.3 199.4,132.2 201.5,133.1 203.6,134.1 205.7,135.1 207.9,136.1 210.0,137.1 212.1,138.2 214.3,139.3 216.4,140.4 218.5,141.6 220.7,142.7 222.8,143.9 224.9,145.2 227.0,146.4 229.2,147.7 231.3,149.0 233.4,150.3 235.6,151.6 237.7,152.9 239.8,154.3 241.9,155.7 244.1,157.1 246.2,158.5 248.3,159.9 250.5,161.3 252.6,162.8 254.7,164.2 256.8,165.7 259.0,167.2 261.1,168.7 263.2,170.2 265.4,171.7 267.5,173.2 269.6,174.7 271.8,176.2 273.9,177.8 276.0,179.3 278.1,180.8 280.3,182.4 282.4,183.9 284.5,185.5 286.7,187.0 288.8,188.5 290.9,190.1 293.0,191.6 295.2,193.1 297.3,194.7 299.4,196.2 301.6,197.7 303.7,199.3 305.8,200.8 307.9,202.3 310.1,203.9 312.2,205.4 314.3,206.9 316.5,208.4 318.6,210.0 320.7,211.5 322.9,213.0 325.0,214.6 327.1,216.1 329.2,217.6 331.4,219.1 333.5,220.7 335.6,222.2 337.8,223.7 339.9,225.3 342.0,226.8 344.1,228.3 346.3,229.8 348.4,231.4 350.5,232.9 352.7,234.4 354.8,235.9 356.9,237.5 359.0,239.0 361.2,240.5 363.3,242.1 365.4,243.6 367.6,245.1 369.7,246.7 371.8,248.2 374.0,249.7 376.1,251.2 378.2,252.8 380.3,254.3 382.5,255.8 384.6,257.4 386.7,258.9 388.9,260.4 391.0,262.0 393.1,263.5 395.2,265.1 397.4,266.6 399.5,268.1 401.6,269.7 403.8,271.2 405.9,272.8 408.0,274.3 410.1,275.8 412.3,277.4 414.4,278.9 416.5,280.5 418.7,282.0 420.8,283.6 422.9,285.1 425.1,286.7 427.2,288.2 429.3,289.8 431.4,291.3 433.6,292.9 435.7,294.5 437.8,296.0 440.0,297.6 442.1,299.1 444.2,300.7 446.3,302.3 448.5,303.8 450.6,305.4 452.7,307.0 454.9,308.6 457.0,310.1 459.1,311.7 461.2,313.3 463.4,314.9 465.5,316.4 467.6,318.0 469.8,319.6 471.9,321.2 474.0,322.8 476.2,324.4 478.3,326.0 480.4,327.6 482.5,329.1 484.7,330.7 486.8,332.3 488.9,333.9 491.1,335.6 493.2,337.2 495.3,338.8 497.4,340.4 499.6,342.0 501.7,343.6" fill="none" stroke="#ee2230" stroke-width="1.8" stroke-linejoin="round"/>
<g stroke="#333" stroke-width="1.1" fill="none">
<rect x="78.0" y="15.4" width="451.8" height="328.6"/>
<line x1="78.00" y1="344.0" x2="78.00" y2="348.1"/><line x1="190.50" y1="344.0" x2="190.50" y2="348.1"/><line x1="304.00" y1="344.0" x2="304.00" y2="348.1"/><line x1="417.40" y1="344.0" x2="417.40" y2="348.1"/><line x1="529.80" y1="344.0" x2="529.80" y2="348.1"/><line x1="74.0" y1="344.00" x2="78.0" y2="344.00"/><line x1="74.0" y1="278.40" x2="78.0" y2="278.40"/><line x1="74.0" y1="212.10" x2="78.0" y2="212.10"/><line x1="74.0" y1="146.50" x2="78.0" y2="146.50"/><line x1="74.0" y1="80.90" x2="78.0" y2="80.90"/><line x1="74.0" y1="15.40" x2="78.0" y2="15.40"/>
</g>
<g class="tk"><text x="78.00" y="362.1" text-anchor="middle">0</text><text x="190.50" y="362.1" text-anchor="middle">40</text><text x="304.00" y="362.1" text-anchor="middle">80</text><text x="417.40" y="362.1" text-anchor="middle">120</text><text x="529.80" y="362.1" text-anchor="middle">160</text><text x="69.4" y="349.70" text-anchor="end">0</text><text x="69.4" y="284.10" text-anchor="end">500</text><text x="69.4" y="217.80" text-anchor="end">1000</text><text x="69.4" y="153.10" text-anchor="end">1500</text><text x="69.4" y="86.60" text-anchor="end">2000</text><text x="69.4" y="21.10" text-anchor="end">2500</text></g>
<text class="lab" x="191.5" y="382.7">Traffic Density (veh/km)</text>
<text class="rho" transform="translate(415.65,380.64) scale(1.14,1.056)">ρ</text>
<g transform="translate(23.0,301.6) rotate(-90)">
<text class="lab" x="0" y="0">Flow Rate (veh/h)</text>
<text class="it" transform="translate(162.15,-1.4) scale(1.0,1.09)">Q</text>
</g>
<text class="lab" x="305.8" y="314" style="font-size:21.5px">Calibrated</text>
<text class="it" transform="translate(402.9,314.1) scale(0.97,1.05)">Q</text>
<text class="lab" x="420.4" y="314.4">(</text>
<text class="rho" transform="translate(426.96,314.6) scale(0.985,0.794)">ρ</text>
<text class="lab" x="441.05" y="314.4">)</text>
</svg>
</body></html>
